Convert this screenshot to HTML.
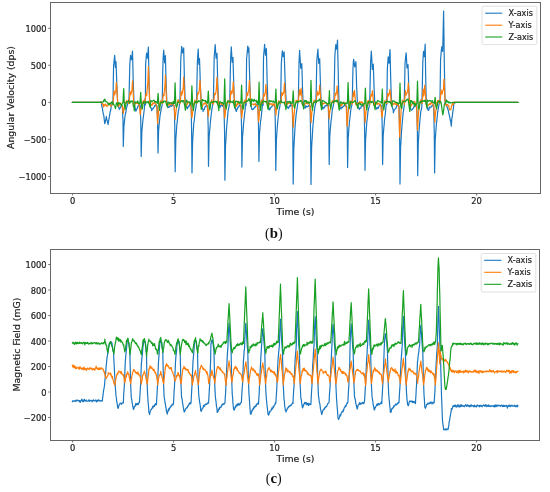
<!DOCTYPE html>
<html><head><meta charset="utf-8"><title>Angular velocity and magnetic field</title>
<style>
html,body{margin:0;padding:0;background:#fff;}
body{width:550px;height:492px;overflow:hidden;position:relative;}
svg{position:absolute;left:0;top:0;display:block;filter:blur(0.3px);}
.tk{font-family:"DejaVu Sans","Liberation Sans",sans-serif;font-size:8.3px;fill:#222;stroke:#222;stroke-width:0.2px;}
.lb{font-family:"DejaVu Sans","Liberation Sans",sans-serif;font-size:9.35px;fill:#222;stroke:#222;stroke-width:0.2px;}
.lg{font-family:"DejaVu Sans","Liberation Sans",sans-serif;font-size:8.1px;fill:#222;stroke:#222;stroke-width:0.2px;}
.cap{font-family:"Liberation Serif","DejaVu Serif",serif;font-size:14px;fill:#111;}
</style></head><body>
<svg width="550" height="492" viewBox="0 0 550 492">
<rect width="550" height="492" fill="#fff"/>

<g fill="none" stroke-width="1.2" stroke-linejoin="round" stroke-linecap="round">
<path d="M72.3 102.4l28.5,0 .2,-.8 .3,1.1 .5,3.4 .5,1.8 .5,3.3 .2,.9 .3,1.7 .5,1.8 .5,4.5 .5,3.5 .5,-1.6 .3,-1.9 .2,-.4 .5,-2.8 .1,-.4 .4,3.1 .5,1.4 .5,2.2 .3,1.5 .2,-2 .5,-2.7 .5,-2.8 .5,-3 .2,-1.9 .3,-.7 .5,-1.6 .5,-4.2 .5,-.9 .2,-1.4 .3,-1.4 .5,0 .2,-1.2 .3,-18.7 .3,-16.8 .2,-1.2 .5,-5.4 .4,-3.5 .1,1.4 .5,9.4 .1,1.4 .4,-4.8 .2,-1 .3,8.1 .5,14.4 0,-.1 .5,10.5 .4,8.7 .1,1.1 .5,2.4 .3,-.2 .2,.7 .5,2 .3,-1 .2,.4 .5,-1.1 .5,-.6 .5,-1.7 .5,.1 .5,.6 .1,.2 .4,11.1 .2,2.5 .3,26.6 .5,-16.3 .1,-3.7 .4,-3.5 .5,-4.9 .3,-1.9 .2,-1.5 .5,-2.1 .5,-3.4 .1,-1 .4,-.9 .5,-2.3 .2,.1 .3,-1.6 .5,-1.2 .5,-2.8 .2,.2 .3,-13.3 .5,-21.9 0,.4 .5,-6.5 .3,-3 .2,2.3 .5,.8 .3,1.4 .2,-1.8 .5,-4.6 .2,-2.3 .3,12.2 .4,17.5 .1,2.4 .5,13.7 .2,6.5 .3,1.4 .5,1.5 .1,1.3 .4,.7 .5,2.8 .1,-.1 .4,-.8 .5,-1.3 .5,-.6 .5,-2.1 .5,-.3 .5,-.1 .4,-2.2 .1,1.9 .5,-.8 .5,2.2 0,-1 .5,17.3 0,1.3 .4,32 .1,-2.5 .5,-20.8 0,-.9 .5,-5.5 .5,-5.3 .2,-2.6 .3,-1.1 .5,-4.8 .5,-3.5 0,-.4 .5,-7.7 .2,-2.8 .3,5.8 .1,.4 .2,-40 .2,-2.3 .5,-6.1 .3,-3.2 .2,1 .5,3.1 .2,.9 .3,-3.6 .5,-6.7 .1,-.9 .4,22.2 .2,9.2 .3,10.2 .4,15 .1,1.1 .5,.5 .3,2.1 .2,.3 .5,.8 .3,2.3 .2,-.7 .5,-.5 .5,-1.1 .5,.1 .5,-1.2 .5,-.4 .5,-1.2 .5,-.7 .5,.9 .2,-1.3 .3,.9 .5,.5 .3,.1 .2,5.9 .3,11 .2,12.5 .2,17.4 .3,-11.4 .3,-10.8 .2,-2.3 .5,-5.1 .5,-5.6 .5,-3.9 .5,-2.2 .3,-2 .2,-1.5 .5,-1.5 .4,-1.5 0,-5.2 .1,-2.7 .5,-28 .2,-7 .3,-7.1 .4,-4.9 .1,1.2 .5,7.3 .3,4.1 .2,-1.7 .5,-4.5 .1,-.9 .4,16.1 .3,10.3 .2,5.5 .5,13.7 .1,1.1 .4,1.5 .5,3.7 0,-.2 .5,-.1 .5,.2 0,-.5 .5,-.7 .5,.5 .5,-.8 .5,-.7 .5,1 .5,-.6 .5,0 .5,-1.2 .4,0 .1,-.1 .5,.8 .5,1.3 0,-.6 .5,21.8 0,2.1 .4,41.9 .1,-7.2 .5,-24.5 0,-.5 .5,-6.7 .5,-7.5 .2,-2.1 .3,-2.1 .5,-5.2 .5,-4.6 0,-.2 .5,-1.8 .5,-3.3 .1,-1.9 .4,-2.8 .2,-3.1 .3,-15.1 .5,-24.2 0,.4 .5,-7.1 .4,-5.9 .1,.7 .5,4.2 .4,1.8 .1,-.6 .5,-2.5 .4,-2 .1,4.8 .5,21.6 .1,4.8 .4,11.2 .4,13.4 .1,-.3 .5,3.3 .3,-.1 .2,.8 .5,.3 .3,-.6 .2,1.6 .5,-.6 .5,-1.7 .5,.2 .5,-.7 .5,-2.4 .2,1.6 .3,.2 .5,.7 .3,-.2 .2,9.2 .3,15.5 .2,18.9 .2,23.6 .3,-16.2 .3,-15.1 .2,-4 .5,-6.8 .5,-7.8 .5,-2.8 .5,-5.2 .3,-3 .2,-1.2 .5,-3.1 .4,-2.1 .1,-1.7 .3,-4.7 .2,-8.1 .5,-26.5 .1,-3.3 .4,-6.5 .4,-5.8 .1,2.1 .5,12.5 0,.5 .5,-3.7 .2,-1.8 .3,8.6 .5,15.6 0,1.3 .5,10 .4,9.1 .1,.4 .5,2.4 .3,.3 .2,1.5 .5,1.3 .3,2.1 .2,-1.3 .5,-.1 .5,-.3 .5,-2 .5,-1 .5,-.4 .5,-1 .2,-.9 .3,1.3 .5,1.6 .3,-1 .2,8 .4,13.4 .1,17.4 .2,21.3 .3,-14.7 .3,-13.2 .2,-3.9 .5,-5.1 .5,-6.1 .5,-5.2 .5,-4.3 .3,-1.8 .2,-2.3 .5,-2.8 .4,-2.4 .1,0 .5,-3 .1,-1.5 .4,-22.2 .4,-21 .1,-1.6 .5,-5.6 .4,-5.1 .1,1.8 .5,7.7 .3,4.2 .2,-.9 .5,-2.7 .2,-1.3 .3,12.1 .4,17.1 .1,1.6 .5,13.7 .2,4.6 .3,2.6 .5,.8 .1,.8 .4,.9 .5,-.6 .1,-.6 .4,-1.1 .5,.5 .5,-.5 .5,.4 .5,.7 .1,-1.3 .4,0 .5,.4 .2,1 .3,14.8 .3,11.9 .2,34.4 .1,12.7 .4,-22.4 .2,-12 .3,-4.6 .5,-8.6 .4,-5.6 .1,-1.4 .5,-5.6 .5,-5.4 .2,-2.8 .3,-1.9 .5,-1.7 .3,-2.4 .2,-1.5 .5,-3.9 0,-2 .5,-25.3 .3,-13.8 .2,-3.9 .5,-8.6 .5,9.6 .4,5.7 .1,-1.7 .5,-2.8 .2,-.1 .3,11.5 .4,12.7 .1,5.9 .5,13.4 .1,3.2 .4,.7 .5,2.3 0,-.5 .5,3.8 .5,-.1 0,1.1 .5,-2.2 .5,-.3 .5,-1.8 1,0 .5,-2.1 .5,.6 .1,-.6 .4,-.3 .5,1 .2,.3 .3,12.2 .3,9.7 .2,27.7 .1,11.4 .4,-20.1 .2,-10 .3,-3.1 .5,-5.8 .4,-6.5 .1,0 .5,-4.9 .5,-4.7 .2,-.7 .3,-4.4 .5,-4.8 .2,-3.2 .1,6.7 .2,-17.6 .3,-30.3 .2,-.8 .5,-5.9 .5,-4.9 .5,6.1 .1,0 .4,-3.5 .1,-.8 .4,16.7 .4,13.8 .1,4.4 .5,13.7 .2,7.3 .3,.3 .5,1.8 .1,1.5 .4,1.9 .5,-.1 .1,.5 .4,-.2 .5,-.9 .5,.3 .5,-1.3 .5,-.6 .5,.2 .5,-1.4 .5,.1 .5,-1.5 .1,-.2 .4,.1 .5,2.9 .2,-1 .3,11 .2,8.8 .3,25.4 .1,10 .4,-16.8 .2,-10.7 .3,-3.7 .5,-5.5 .4,-4.8 .1,.4 .5,-4 .5,-5.2 .2,-1.9 .3,-3.6 .5,-5.4 0,-1.7 .3,6.9 .2,-28 .2,-19 .3,-5.1 .5,-5 .3,-4 .2,2.4 .5,6.7 .2,1.8 .3,-2.4 .5,-3.1 .1,-1.1 .4,17.7 .3,13.4 .2,5.6 .5,15 .1,2.4 .4,2.4 .5,2.3 .5,1.4 .5,1.1 .5,-1.7 .5,-.9 .5,0 .5,-.8 .5,-.6 .5,-.1 .5,-1 .5,.5 .5,.2 .5,.9 .1,-.1 .4,16.6 .1,6.2 .4,41.3 .5,-26.1 .1,-4.6 .4,-5.5 .5,-7.5 .3,-3.1 .2,-2.8 .5,-4.3 .5,-4.5 .1,-2 .4,-.8 .5,-2.6 .2,-1.2 .3,-3 .3,-3.2 .2,-8.2 .5,-25.8 .1,-2.8 .4,-4.9 .5,-6.6 .5,3.6 .4,2.2 .1,-.7 .5,-3 .3,-1.1 .2,4.2 .5,15.2 .3,9.4 .2,3.4 .5,10.9 .4,8 .1,.7 .5,2.7 .3,1.3 .2,-.1 .5,-.7 .3,1.3 .2,.2 .5,-.6 .5,-.9 .5,-1.6 .5,1 .5,-1.1 .4,-1.8 .1,1.9 .5,-.5 .5,.8 .5,26.6 0,3.7 .4,48.2 .1,-5.8 .5,-30.2 .5,-8.1 .5,-9.1 .2,-3.3 .3,-4 .5,-5.3 .5,-5 .5,-3.2 .5,-3.3 .1,-.1 .4,-3.9 .5,-3.1 0,.1 .5,-24.1 .2,-13.1 .3,-5.5 .3,-6.7 .2,3.7 .5,7.2 .4,6.1 .1,.9 .5,-2.7 .5,-2 .5,17.2 .1,4.6 .4,10 .3,7.5 .2,0 .5,3.4 .2,1.6 .3,-.2 .5,-.3 .2,.4 .3,.2 .5,-2.4 .5,1.2 .5,0 .5,-.3 .5,.3 .5,-.7 .5,-.9 .2,-.1 .3,.7 .5,-.1 .3,.7 .2,11 .3,19 .2,19.9 .2,28.2 .3,-18.6 .3,-17.9 .2,-4.1 .5,-7.1 .5,-9.5 .5,-5.2 .5,-5.7 .3,-2.9 .2,-1.1 .5,-4.7 .4,-2.2 .1,0 .5,-4.5 .2,-2.5 .3,-12.2 .5,-25.1 0,-.5 .5,-5.7 .5,-4.2 .1,-1.7 .4,7.3 .5,7 .5,-2.2 .4,-2.7 .1,4.3 .5,17.1 .1,3.2 .4,10.3 .4,9.8 .1,1.2 .5,1.3 .3,1.4 .2,1.1 .5,.7 .3,0 .2,-1.3 .5,-.3 .5,.5 .5,-1.4 .5,-.8 .5,.3 .5,-.1 .5,-1.1 .4,-.8 .1,.3 .5,1.9 .5,-.2 .5,19.2 0,2.1 .4,37.2 .1,-5.3 .5,-22.8 .5,-6.9 .5,-5.7 .2,-2.8 .3,-1.3 .5,-4.9 .5,-4.7 .5,-2.2 .5,-2.3 .1,.1 .4,-4.9 .2,-1.9 .3,-14.7 .5,-25.5 0,-1.6 .5,-6.7 .5,-5.6 .5,3.8 .3,.7 .2,-1.8 .5,-4.7 .2,-2.7 .3,14 .5,21.1 0,2.5 .5,16.7 .3,9.4 .2,1 .5,.6 .2,2.5 .3,-.1 .5,.9 .2,.4 .3,-.8 .5,-1.2 .5,.8 .5,-1.1 .5,-.1 .5,-.6 .5,-.3 .5,-1.5 .5,1.7 .3,-.8 .2,.7 .5,1.2 .4,-.6 .1,2.9 .4,18.7 .1,5.4 .3,34 .2,-9.6 .4,-21 .1,.1 .5,-7.5 .5,-5.3 .1,-1.5 .4,-3.8 .5,-4.3 .4,-3.9 .1,-.6 .5,-3.1 .5,-1.6 .4,-4.8 .1,-2.1 .5,-22.8 .2,-7 .3,-6 .3,-3.2 .2,.6 .5,3.8 .5,3.2 .5,-2.5 .5,-1.9 .1,-1.1 .4,13.3 .3,11.7 .2,2.9 .5,11.5 .1,2.8 .4,1.9 .5,1.1 .5,1.3 .5,1.5 .5,-1 .5,-.6 .5,.3 .5,-1.9 .5,0 .5,-1 .5,.7 .2,-2.3 .3,1.2 .5,.8 .3,1.1 .2,8.3 .3,15.1 .2,15.5 .2,24.6 .3,-16 .3,-15.6 .2,-1.9 .5,-7.5 .5,-7.3 .5,-3.6 .5,-5.3 .3,-2.3 .2,-.5 .5,-2.6 .4,-1.3 .1,-2 .5,-5.5 .5,-23.6 .3,-13.3 .2,-2.7 .5,-8.1 .5,7.9 .5,10.3 .5,-3 .5,-2.2 .5,15.2 .2,6.9 .3,6 .5,11.8 .5,1.8 .4,1.7 .1,.2 .5,-.2 .4,1.5 .1,-.2 .5,-.3 .5,-1.5 .5,1.3 .5,-1.5 .5,-1.3 .5,-.8 .5,.3 .3,-.3 .2,-.1 .5,1.2 .4,.1 .1,4.5 .4,16.1 .1,5.7 .3,32.3 .2,-8.4 .4,-20.8 .1,-.9 .5,-6.3 .5,-5 .1,-2.4 .4,-3 .5,-4 .4,-4 .1,-1.1 .5,-5.5 .3,-5.1 .2,6.2 .5,-33.4 .1,-3 .4,-5.4 .4,-5.6 .1,1.4 .5,3.5 .3,1.5 .2,-3.4 .5,-8.2 .2,-2.1 .3,12 .4,17.2 .1,2.8 .5,16.6 .2,5.3 .3,1.9 .5,1.3 .1,1.3 .4,.6 .5,2.3 .1,2 .4,-1.6 .5,-1.5 .5,-.4 .5,-.5 .5,-.2 .5,-1.7 .5,-1.5 .5,.2 .5,-.5 .2,-.2 .3,1.1 .5,.1 .3,.7 .2,9.2 .3,19.3 .2,21.6 .2,27.1 .3,-18.8 .3,-18.6 .2,-2.2 .5,-9.5 .5,-7.5 .5,-5.3 .5,-5.4 .3,-4.1 .2,-.8 .5,-3.5 .4,-2.3 .1,-4.6 0,-2.8 .5,-22.4 .2,-12.3 .3,-3.7 .5,-4.8 .3,-2.6 .2,2.3 .5,9.2 .2,3.5 .3,0 .5,-2 .2,-1.2 .3,8 .4,13.4 .1,1.6 .5,11.2 .2,5.4 .3,-.4 .5,3.7 .1,-.2 .4,2 .5,.8 .1,-.2 .4,0 .5,-.3 .5,-1.1 .5,-.4 .5,-1.2 .5,-1.6 .5,1.2 .5,-.8 .4,-.8 .1,.1 .5,1.2 .5,-.2 .5,22.6 .1,2.6 .3,44.4 .1,-7 .5,-26 .5,-8.2 .5,-7.4 .2,-1.4 .3,-3.9 .5,-5.7 .5,-4.5 .5,-2 .5,-2.7 .1,-1.5 .1,-5.8 .3,-12.9 .5,-24.3 0,-.2 .5,-7.6 .2,-3.3 .3,1.8 .5,3.2 .1,.3 .4,-6.9 .4,-5.7 .1,7.7 .4,25.8 .1,5 .5,21.6 .5,1.9 .4,2.8 .1,-1.7 .5,2.1 .4,.1 .1,1.2 .5,-.6 .5,-2.7 .5,.1 .5,.4 .5,-.4 .5,-.6 .5,-1 .5,-.2 .3,-.2 .2,-.2 .5,1.4 .4,-1.5 .1,6.2 .4,18.8 .1,7.3 .3,35.6 .2,-11.1 .4,-20.7 .1,-2.2 .5,-6.9 .5,-7.3 .1,-.4 .4,-3.6 .5,-4.6 .4,-4.6 .1,.2 .5,-3.4 .5,-2.8 .5,-2.3 .5,-2.4 .2,-1.6 .3,-20.4 .3,-20.4 .2,-1.5 .5,-6 .5,-4.2 .5,1.9 .4,2.8 .1,-5.3 .5,-21.6 .3,-13.4 .2,14.1 .5,38 0,.1 .5,25.7 .3,15 .2,-.8 .5,.6 .4,.9 .1,.1 .5,1.5 .5,1.4 .3,0 .2,1.7 .5,.7 .5,3.4 .2,.1 .3,1.4 .5,2.6 .5,2.7 .1,-.6 .4,2.6 .5,3.8 .5,-6.8 .2,-1.9 .3,-.5 .5,-5.1 .5,-2.8 .5,-4.9 .2,-.5 .3,-.5 .5,-.1 .5,-.2 .5,-.3 .2,-.1 62,0" stroke="#1b78c0"/>
<path d="M72.3 102.4l28.5,0 .5,-.5 .2,.1 .3,1.3 .5,.5 .5,.1 .5,2.3 .4,.8 .1,-2.4 .5,.4 .5,.7 .5,-1.7 .5,.6 .5,.7 .5,.7 .2,.6 .3,-.7 .5,0 .5,-1.5 .5,-.8 .2,-.8 .3,1 .5,0 .5,1 .5,1.3 .5,.1 .5,-.7 .5,-.8 .5,-1 .2,-.4 .3,-3.6 .5,-5.3 .2,-3.5 .3,2.9 .4,1.2 .1,-.8 .5,-1.7 .5,-1.9 0,.5 .5,-8.3 .1,-.4 .4,5.9 .3,4.5 .2,4.1 .5,7.3 0,1.2 .5,.9 .5,.1 0,-1.2 .5,-.8 .5,.4 .5,-2 .5,.5 .5,1.3 .5,1.6 .5,0 .5,3.2 .5,4.1 .5,-3.2 .3,-2.8 .2,-1 .5,-1 .3,-1.7 .2,-.1 .5,-1.6 .5,-.3 .5,-1.4 .5,1 .5,.5 .5,.9 .5,.9 .3,-.6 .2,-2.5 .5,-6.1 .3,-3 .2,1.7 .5,1.8 .5,-2.5 .5,-1.6 .1,-.1 .4,-6.1 .2,-3.9 .3,5.7 .4,6.3 .1,2.1 .5,9.8 .1,-.6 .4,.4 .5,-.5 .1,-.5 .4,-.4 .5,.4 .5,-.1 .5,-.2 .5,-1.2 .5,1.6 .5,.1 .5,.8 .5,1 .5,4.7 .5,4.5 .5,-4.5 .3,-1.3 .2,-.7 .5,-1.9 .3,-1.1 .2,-1.6 .5,-1.6 .5,-1.1 .5,-.4 .5,1.8 .5,.4 .2,.5 .3,-3.8 .5,-4.4 .2,-1.4 .3,1.1 .4,.9 .1,-1.8 .5,-5.6 .5,-6 .5,-12.7 .1,-3 .4,12.7 .3,9.9 .2,3.9 .5,11.5 .5,.5 .5,-.3 .5,-.3 .5,1.1 .5,-1.1 .5,-1.5 .5,.9 .5,-.1 .5,-1.4 .4,-.5 .1,.3 .5,1.2 .5,1 .5,1.2 .4,.6 .1,1.8 .5,9.1 .4,6.7 .1,-2.6 .5,-5.7 .2,-2.4 .3,-2.9 .5,-3.5 .2,-2.4 .3,-1.4 .5,-.2 .4,-1.8 .1,-.1 .5,1.4 .5,1 .5,.5 0,-1.7 .5,-3.1 .5,-4.1 0,-.3 .5,.7 .2,.6 .3,-3.8 .5,-5.1 .5,-8.3 .1,-3.5 .4,8.9 .3,7.8 .2,4.1 .5,9.2 .5,1 .5,-.7 .5,-.6 .5,.3 .5,0 .5,-1.2 .5,.3 .5,-.6 .5,1.4 .5,-2.5 .3,1.1 .2,-.6 .5,.7 .5,1.1 .5,.8 .3,.7 .2,2.3 .5,6.5 .3,4.4 .2,-1.6 .5,-5.3 .1,-.6 .4,-3.3 .5,-2.9 .1,-.4 .4,-2.1 .5,-2.7 .3,-.8 .2,.1 .5,2.6 .5,-.7 .5,2 .3,.1 .2,-1.8 .5,-6.3 .3,-4.3 .2,1 .5,2.7 .5,-2.3 .5,-2.7 .3,-1.1 .2,-2.7 .4,-9.3 .1,3.2 .5,9.8 .1,2.8 .4,7.6 .3,5 .2,.5 .5,-1.2 .3,1.7 .2,-1.3 .5,.1 .5,-1 .5,-2.3 .5,.4 .5,-.1 .1,.7 .4,-.1 .5,.8 .5,-.1 .5,2.6 .1,.4 .4,4.3 .5,6.5 .1,.5 .4,-2.6 .4,-3 .1,-1.8 .5,-2.8 .4,-2.9 .1,-1.2 .5,-.3 .5,-3.2 .1,.3 .4,.9 .5,1.2 .5,.6 .4,.6 .1,-1.7 .5,-5.6 .4,-3.4 .1,-.2 .5,1.2 .1,.3 .4,-1.5 .5,-3.3 .1,-.2 .4,-6.9 .2,-2.3 .3,5.9 .4,8.7 .1,-.4 .5,9.1 .1,2.6 .4,-.6 .5,0 .1,1.3 .4,-1.6 .5,-.9 .5,-.6 .5,.5 .5,-.4 .5,-1.5 .5,.9 .5,1.5 .5,.6 .5,-.1 .5,6.1 .5,5.2 .5,-5.6 .3,-1.7 .2,-.5 .5,-3 .3,-2.4 .2,.5 .5,-1.1 .5,-1.2 .5,-1.5 .5,3.5 .5,-1.5 .5,1.9 .2,.4 .3,-2.9 .5,-5 .2,-2.7 .3,1.4 .4,-.3 .1,-1.7 .5,.3 .5,-4.2 .1,.1 .4,-9.5 .2,-2.5 .3,6.8 .4,9 .1,.9 .5,9 .1,2.5 .4,-1.5 .5,0 .1,1.1 .4,-1 .5,0 .5,-.4 .5,.8 .4,-.7 .1,-.7 .5,1.4 .5,-.5 .5,.9 .4,1.2 .1,.1 .5,7.3 .4,4.7 .1,-.2 .5,-4.2 .2,-3.5 .3,-1.2 .5,-3.8 .2,-1.4 .3,-1 .5,-.1 .4,-.8 .1,-1 .5,0 .5,1.5 .5,.1 .5,1.3 .1,-.1 .4,-5.1 .5,-6.2 .1,-1.9 .4,2.5 .3,1.1 .2,0 .5,-2.4 .4,-.7 .1,-2 .5,-7.1 .5,9 .2,2.5 .3,5.2 .4,6.3 .1,1.1 .5,1 .4,-.2 .1,-.9 .5,.5 .5,-2.4 .5,1.1 .5,-1.9 .5,-1.9 .4,2.7 .1,-.5 .5,-.8 .5,1.5 .5,.6 .4,.8 .1,.3 .5,6.7 .4,5.7 .1,-1.1 .5,-4.3 .2,-2.6 .3,-.4 .5,-4.7 .2,-.5 .3,-2.3 .5,-1.3 .4,.2 .1,-1.1 .5,2 .5,.8 .2,-.1 .3,-2.7 .5,-5.2 .2,-2 .3,1.5 .4,1 .1,-1.2 .5,-2.5 .5,-1.5 .5,-8.7 .1,-1 .4,8.7 .3,4.7 .2,2.9 .5,8.5 .5,-.8 .5,-.4 .5,-.1 .5,.3 .5,-.1 .5,.7 .5,-.8 .5,.1 .5,-.7 .3,1.7 .2,-.6 .5,1.1 .5,-.3 .5,.7 .3,-.8 .2,3.9 .5,9.7 .3,2.8 .2,-1.1 .5,-5.9 .1,-2 .4,-3 .5,-3.7 .1,-2 .4,-.7 .5,-2.4 .3,-.9 .2,.5 .5,1.6 .5,1.4 .5,-4.2 .5,-5.5 .5,2.3 .2,-.4 .3,-1.3 .5,-2.3 0,.2 .5,-6.5 .1,-1.4 .4,4.9 .3,6.2 .2,4.3 .5,4.5 0,1.7 .5,-1.3 .5,-1.3 0,.9 .5,-1.4 .5,.9 .5,.9 .5,-.9 .5,-.1 .5,.4 .5,-.2 .5,1.3 .5,-1.4 .1,1.1 .4,-1.1 .5,1.5 .5,-.3 .5,-1.2 .1,1.6 .4,2.9 .5,4.7 .1,2.1 .4,-4.5 .4,-3 .1,1.2 .5,-2.8 .4,-.6 .1,-1.1 .5,-2.4 .5,-1.2 .1,.5 .4,.4 .5,.3 .5,.9 .4,.5 .1,-1.3 .5,-3.9 .4,-5.5 .1,-.3 .5,2.1 .1,1 .4,-.8 .5,-1.4 .5,-1.4 .1,.3 .4,-6.7 .2,-2.6 .3,6.1 .4,5.7 .1,2 .5,8 .1,1.2 .4,-1.1 .5,.4 .1,-1.1 .4,-.7 .5,.6 .5,-.3 .5,-.9 .5,.4 .5,-.2 .4,-1.2 .1,1.2 .5,.6 .5,.5 .5,-.1 .4,1.3 .1,2.4 .5,11.4 .4,8.2 .1,-.5 .5,-9.1 .2,-2.6 .3,-2.3 .5,-6.6 .2,-2 .3,0 .5,-2.6 .4,-1.3 .1,.5 .5,1.2 .5,-1.4 .5,1.6 .5,.5 .1,.1 .4,-5.5 .5,-7 .1,-.7 .4,2.5 .3,3.1 .2,-.3 .2,-1.2 .3,-2.9 .3,-2.5 .2,1.8 .5,5.9 .5,6.9 .2,2 .3,.7 .5,.1 .2,-1.1 .3,.2 .5,.5 .5,-1.3 .5,.1 .5,-1.1 .5,-.2 .5,-.2 .5,1.3 .5,-1.9 .3,-.3 .2,.4 .5,1.1 .5,1.3 .5,.6 .3,1.6 .2,2.3 .5,9.3 .3,4.4 .2,-2.3 .5,-7.5 .1,-.5 .4,-3.1 .5,-4.1 .1,-2 .4,.5 .5,-2.4 .3,-1.1 .2,.4 .5,.8 .5,1.1 .5,-.2 .3,.6 .2,-1.7 .5,-6.1 .3,-4 .2,.9 .5,2.6 0,.5 .5,0 .5,-2.1 .3,1.1 .2,-3 .4,-5.9 .1,2.2 .5,6 .1,1.3 .4,5.8 .3,4.8 .2,-.2 .5,-.7 .3,.1 .2,-1.4 .5,1.4 .5,-1.3 .5,.4 .5,0 .5,-.6 .5,-.3 .5,.1 .4,.5 .1,.5 .5,.5 .5,-.4 .5,.7 .4,.3 .1,2.1 .5,4.8 .4,6.9 .1,-2 .5,-5 .2,-1.2 .3,-1.4 .5,-3.2 .2,-.8 .3,-1.5 .5,-1 .4,-1.4 .1,-.6 .5,1.7 .5,0 .5,.8 .3,-.2 .2,-1.5 .5,-4.1 .3,-4.1 .2,1.5 .5,.6 .5,-2.6 .2,.9 .3,-3.2 .3,-4.5 .2,3.3 .5,5.4 .5,8.6 .2,1.9 .3,1.2 .5,-1.3 .2,1.7 .3,-.8 .5,.2 .5,-1.4 .5,-.2 .5,1.3 .5,-2.3 .5,-.3 .5,-.1 .5,-.9 .4,1 .1,.5 .5,-.7 .5,.1 .5,2.5 .4,.6 .1,2 .5,11 .4,7.4 .1,-1.1 .5,-8.5 .2,-3.1 .3,-1.6 .5,-6.1 .2,-.3 .3,-2.4 .5,-2.1 .4,-.4 .1,.7 .5,-.1 .5,-.3 .5,1.7 .5,1.3 .5,-6.6 .5,-5.6 .5,4.1 .1,.1 .1,-1.9 .3,-2 .2,-1.9 .3,3.6 .4,3.9 .1,1.7 .5,5.1 .1,-.2 .4,.4 .5,-.7 .1,-.5 .4,.3 .5,-1.1 .5,-.3 .5,1 .5,-1.2 .5,-.8 .5,1.8 .5,-1.1 .5,.2 .5,-.8 .3,0 .2,.4 .5,1.2 .5,1.2 .5,-.9 .3,2.3 .2,2.2 .5,8.6 .3,6.1 .2,-2.9 .5,-7.2 .1,.8 .4,-4.8 .5,-3.4 .1,-.8 .4,-.6 .5,-2.8 .3,-.1 .2,-.7 .5,1.9 .5,-.3 .5,1.1 .1,1.5 .4,-4.4 .5,-4.4 .1,.4 .4,-1 .3,-.6 .2,1.5 0,-1.1 .5,-3.3 .1,-.9 .4,3.2 .3,3.2 .2,2.7 .5,5.6 0,-.6 .5,.1 .5,-2.4 0,1 .5,0 .5,.2 .5,.3 .5,-.9 .5,1.2 .5,-.5 .5,-.2 .5,-.4 .1,.1 .4,1.2 .5,-.4 .5,.9 .5,1 .1,0 .4,5.3 .5,5.2 .1,.7 .4,-2.6 .4,-4.3 .1,-.1 .5,-3.5 .4,-1.6 .1,-.5 .5,-1.8 .5,-1.8 .1,-.4 .4,.6 .5,.8 .5,1.3 .4,-.2 .1,.3 .5,-6.4 .4,-3.5 .1,-.3 .5,1.4 .1,1.6 .4,-1.5 .5,-.8 .1,.3 .4,-4.1 .2,-.6 .3,2.5 .4,5.3 .1,.1 .5,7 .1,1.4 .4,.2 .5,-2 .1,.6 .4,-.2 .5,-.8 .5,.5 .5,-.2 .5,-1.3 .5,1.7 .5,-.1 .5,-.7 .4,-.6 .1,1.8 .5,-.3 .5,.9 .5,.6 .4,-.8 .1,4 .5,15.2 .4,12.8 .1,-2.2 .5,-10.8 .2,-3.7 .3,-5.2 .5,-7.8 .2,-3.2 .3,-.6 .5,-2.4 .4,-1.1 .1,.4 .5,.6 .5,1.2 .5,.6 .1,1.7 .4,-5.5 .5,-6.8 .1,-1.6 .4,3.8 .3,.7 .2,-.7 .5,-1 .5,-1.3 .4,-.3 .1,-2.4 .5,-6.4 .5,7 .2,4.5 .3,3.8 .4,8.1 .1,-1.2 .5,.5 .4,.8 .1,.1 .5,-2 .5,-.1 .5,-1.2 .5,.3 .5,-.7 .5,-.7 .5,-.8 .2,-.1 .3,.4 .5,1.7 .5,1.5 .5,-1.1 .2,1.4 .3,7.4 .5,13.2 .2,4.2 .3,-4.8 .5,-9.4 .5,-5 .5,-6.4 .5,-1.9 .5,-1.3 .2,-1 .3,-.3 .5,2.3 .5,.7 .3,.3 .2,-2 .5,-6.7 .3,-5.5 .2,1.7 .5,5.1 .4,-3.3 .1,-1.5 .5,-6.1 .5,7.4 .2,2.2 .3,5.2 .4,4.8 .1,.1 .5,1.4 .4,-.9 .1,.3 .5,.1 .5,-.2 .5,-1 .5,0 .5,-.9 .5,1.2 .5,-.9 .5,-1.4 .5,.3 .5,1.1 .5,.6 .5,1.4 .5,.4 .5,7.4 .5,8.8 .5,-7 .3,-2.8 .2,-1.7 .5,-2.5 .3,-3.9 .2,-2 .5,-.8 .5,-1.2 .5,-.2 .5,.9 .5,1 .5,1.1 .2,0 .3,-4.5 .5,-5.7 .2,-3.5 .3,2.2 .4,2.4 .1,0 .5,-.7 .5,-3 .5,-.7 .1,.2 .4,-7.7 .2,-3.2 .3,5.2 .4,9.5 .1,1.7 .5,8.3 .1,.5 .4,-.2 .2,.9 .3,.8 .1,-.7 .4,.6 .5,-1.1 .5,.3 .2,.1 .3,1 .5,-.1 .5,2.7 .5,1.4 .5,-.3 .1,.1 .4,-.2 .5,-2.2 .5,-2.6 .5,.3 .2,-1 .3,-.6 .5,1.1 .5,-1.6 .5,-.9 .2,.4 .3,-.7 .5,.6 62.7,0" stroke="#ff7d0b"/>
<path d="M72.3 102.4l29.5,0 .2,-.2 .3,.1 .5,-.3 .5,-.1 .5,-1.9 .5,1 .5,-2 .5,1.4 .5,1.2 .5,.4 .5,-.3 .2,.4 .3,.4 .5,.7 .5,1.2 .5,-1 .4,1.4 .1,-.1 .5,-.6 .5,-.8 .5,0 .5,-1.2 .2,-.1 .3,.2 .5,1.4 .5,-1.6 .5,2.5 .2,-.7 .3,.8 .5,.9 .5,.7 .5,2.2 .1,.1 .4,-1.4 .5,-3.8 .4,-.3 .1,-.4 .2,.3 .3,1 .5,2.2 .5,-2.2 .4,-1.2 .1,.4 .5,.3 .5,-.4 .5,1 .5,0 .4,1 .1,.9 .5,-1.1 .5,-1 .5,-1.2 .2,0 .3,-6.8 .4,-7.3 .1,1.6 .5,12.9 .1,2 .4,2 .4,2.3 .1,-1.8 .5,-2.6 .5,-3 .5,.9 .5,-1.2 .5,-.1 .5,-.3 .5,-.1 .5,1.1 .5,1.1 .5,-2.2 .5,1.1 .5,-.5 .5,-.9 .5,.4 .3,0 .2,.8 .5,4.3 .5,.4 .5,4.1 .5,-6.2 .2,-2.9 .3,.4 .5,.4 .5,-.4 .5,.2 .5,.2 .5,-1.7 .4,2.1 .1,.6 .5,-.4 .5,.4 .5,-1.1 .2,.9 .3,-5 .4,-6 .1,2.8 .5,8 .1,2.2 .4,.9 .4,3 .1,-.5 .5,-3.6 .5,-3.1 0,1.5 .5,-1.9 .5,.1 .5,.1 .5,1.1 .5,.5 .5,-1.1 .5,-.7 .5,.2 .5,.8 .5,-1.2 .3,1.4 .2,.6 .5,.7 .5,2 .4,1.3 .1,-.7 .4,-6 .1,1.3 .5,-.9 .5,-.3 .5,.5 .5,-.2 .5,-.5 .5,-.4 .5,.3 .5,1.4 .5,.3 .3,-.8 .2,.6 .5,-.4 .5,1 .5,.8 .1,-.6 .4,-5.8 .3,-3.7 .2,3.2 .5,8.3 0,.8 .5,2.5 .3,2.4 .2,-1.9 .5,-3.6 .4,-2.5 .1,-.2 .5,-.4 .5,.1 .5,.6 .5,-.2 .5,.3 .5,-1.9 .5,.7 .5,-.1 .5,.3 .4,-.5 .1,.3 .5,2.5 .5,1.4 .4,.5 .1,.9 .5,-3.2 .1,-1.6 .4,1 .5,-.8 .5,1.2 .5,-.6 .5,-.2 .5,.4 .5,-.1 .5,.7 .5,.1 .3,0 .2,-.4 .5,-1.9 .5,2.1 .5,-1.2 .1,1.2 .4,-11.3 .3,-9.4 .2,6.1 .5,16.4 .5,1.3 .3,.8 .2,-1.2 .5,-1.1 .4,-2.7 .1,.5 .5,-.8 .5,0 .5,-.3 .5,.2 .5,.1 .5,-.5 .5,-.7 .5,-.3 .5,1.3 .5,-1.3 .5,-.1 .4,.9 .1,.3 .5,2.2 .5,2.1 .5,4.2 .2,-.1 .3,-3.8 .4,-5.7 .1,-.6 .5,.3 .5,1.4 .5,.4 .5,-.1 .5,-.2 .5,.2 .1,.7 .4,-.6 .5,1.6 .5,.3 .4,1.1 .1,-3.6 .5,-13.1 .1,-2.6 .4,9.3 .3,9.9 .2,1.5 .5,3.8 .1,.4 .4,-2.9 .5,-3.8 .2,-1.2 .3,.4 .5,-1.6 .5,.2 .5,-.7 .5,1.7 .5,-.3 .5,-.5 .5,-1.3 .5,.7 .5,-.4 .5,.1 .4,-.3 .1,1.2 .5,3.1 .5,4.3 .5,-5.5 .4,-4.4 .1,.1 .5,.1 .5,1 .5,-.4 .5,.5 .5,-.1 .5,-.4 .5,1.6 .5,-.6 .5,1.6 .5,.4 .3,-.9 .2,-3 .5,-8.3 .5,9.8 .2,3.8 .3,2.9 .5,2.2 .5,-3 .5,-4 .1,-.2 .4,-.7 .5,.3 .5,.3 .5,-.4 .5,-.4 .5,-.4 .5,.6 .5,.1 .5,-.5 .5,-.4 .5,.7 .5,1.1 .4,-1.7 .1,.9 .5,2.9 .5,1.2 .5,4.4 .5,-6.8 .2,-1.3 .3,-.8 .5,0 .5,.6 .5,.5 .5,-.2 .4,.6 .1,-.8 .5,.7 .5,.7 .5,.8 .2,-.8 .3,-11.1 .4,-13.9 .1,3.8 .5,19.9 .1,3.5 .4,1.1 .4,2 .1,-.6 .5,-2.9 .5,-3.1 0,-.6 .5,-.9 .5,.8 .5,-.9 .5,1.2 .5,-.1 .5,-1.1 .5,1.3 .5,0 .5,-.5 .5,.8 .5,.1 .5,-2 .5,3.6 .5,1.9 .5,2.2 .5,-5.2 .1,-2.1 .4,.2 .5,0 .5,.3 .5,.5 .5,-.6 .5,.5 .5,1.1 .3,-.3 .2,.4 .5,-1.2 .5,.8 .5,.3 .1,.4 .4,-11.2 .3,-7.1 .2,5.3 .5,15 .5,2.9 .3,.8 .2,-.3 .5,-3.6 .4,-2.7 .1,-.1 1,0 .5,-.3 .5,-.7 .5,.1 .5,-.8 .5,.4 .5,-1 .5,-1.5 .5,1.7 .5,-1 .5,3.3 .4,3.8 .1,-1.3 .5,-2.4 .2,-2.6 .3,-1.2 .5,1.5 .5,-.4 .5,1.6 .5,-1.6 .5,-.6 .5,1.6 .5,-.1 .5,.2 .5,-.9 .3,1.7 .2,.9 .5,-1.6 .5,2.3 .5,-.5 .1,1.8 .4,-13.2 .3,-9.4 .2,7.4 .5,16.1 .5,2.2 .3,2.5 .2,-2.1 .5,-4.2 .4,-.5 .1,-1.4 .5,-.3 .5,.4 .5,-1.2 .5,0 .5,.4 .5,-.1 .5,.2 .5,.5 .5,-1 .3,.5 .2,1.1 .5,1.8 .5,3.6 .4,1.5 .1,-.1 .5,-6.8 .1,-1.5 .4,-.8 .5,.9 .5,-.5 .5,.9 .5,-.5 .5,-.4 .5,1 .5,-.1 .5,-.7 .1,1 .4,-.4 .5,.6 .5,.8 .4,-.1 .1,-2 .5,-10.7 .1,-1.2 .4,9.9 .3,6.3 .2,2 .5,1.1 .1,.7 .4,-2 .5,-3.3 .2,.1 .3,-1.3 .5,-.9 .5,1.5 .5,-1.1 .5,0 .5,-1.7 .5,2.4 .5,-.2 .5,0 .5,0 .5,.4 .5,-1.1 .5,2.8 .5,1.2 .5,2.5 .1,1.3 .4,-2.6 .5,-3.7 .4,-1.2 .1,-.3 .5,-.3 .5,.8 .5,-.4 .5,-.6 .5,.3 .5,1.8 .4,-1.9 .1,1.1 .5,.5 .5,.3 .5,-.8 .2,.6 .3,-5.3 .4,-7.1 .1,1.3 .5,10.4 .1,3.5 .4,1.3 .4,.8 .1,-1.1 .5,-1.9 .5,-2.6 .5,.3 .5,-1.4 .5,.7 .5,-.3 .5,-.7 .5,.7 .5,-.3 .5,-.4 .5,.4 .5,-1.2 .5,.7 .3,.2 .2,.7 .5,2.4 .5,.6 .5,1.8 .3,2.3 .2,-3.1 .3,-3.8 .2,-.9 .5,-.8 .5,1.2 .5,-.9 .5,-.2 .5,2.6 .5,-1.3 .5,.4 .5,0 .2,.8 .3,-.7 .5,1 .5,-.9 .5,.2 .5,-15.5 .2,-6.8 .3,10.5 .4,14.7 .1,.5 .5,2.1 .2,2.3 .3,-2.4 .5,-3.4 .3,-2 .2,.3 .5,-.5 .5,-.1 .5,-1.3 .5,.8 .5,.7 .5,-1.8 .5,0 .5,.4 .5,-.2 .5,-.4 .5,-1.5 .5,1 .1,-1 .4,2.6 .5,3.8 .5,2.5 .2,1.9 .3,-2.4 .4,-6.5 .1,0 .5,-.6 .5,.6 .5,.1 .5,.7 .5,0 .5,.6 .5,.7 .5,-.1 .5,.1 .1,.1 .4,1 .5,-.4 .5,.4 .4,-.1 .1,-2.5 .5,-8 .1,-3 .4,10.3 .3,5.3 .2,0 .5,1.3 .1,1.4 .4,-3.6 .5,-2.2 .2,-.2 .3,-.5 .5,-.5 .5,.7 .5,-1.4 .5,.6 .5,-.6 .5,-.4 .5,.6 .5,-1 .5,1.5 .5,-1.7 .5,1.4 .5,1.7 .5,4.6 .5,2.5 .5,-5.5 .3,-2.4 .2,.3 .5,-1 .5,1.6 .5,-1 .5,.7 .5,.3 .5,.2 .5,-1.2 .5,2.1 .5,-.4 .5,-.5 .3,-.3 .2,-.4 .5,.1 .5,1 .5,-.7 .1,-.5 .4,-12 .3,-8.1 .2,5.7 .5,16.7 .5,3.1 .3,.6 .2,-1.3 .5,-3.2 .4,-2.7 .1,.2 .5,.3 .5,.1 .5,.3 .5,.1 .5,-.3 .5,-.1 .5,-.8 .5,-.7 .5,.9 .3,-.3 .2,.8 .5,1.8 .5,1 .5,1.6 .4,1.9 .1,-.6 .5,-4 .1,0 .4,-.4 .5,-.3 .5,.7 .5,1.3 .5,-1.4 .5,1.2 .5,.2 .5,.2 .5,-1.2 .1,1.7 .4,-1.4 .5,-.5 .5,-.3 .4,.3 .1,-2.7 .5,-11.7 .1,-1.4 .4,9.2 .3,7.6 .2,2.1 .5,2.4 .1,.7 .4,-3.8 .5,-1.9 .2,-1.6 .3,.7 .5,-1.9 .5,.9 .5,-.4 .5,-.8 .5,.4 .5,1.1 .5,-1.1 .5,-.2 .5,.9 .5,0 .5,2.1 .5,1 .5,2.5 .3,1.8 .2,-2.9 .5,-4.9 .5,.8 .5,.3 .5,-1.7 .5,-1 .5,.6 .5,.1 .5,.4 .5,.4 .5,.1 .5,.2 .5,1.1 .3,-.4 .2,-3.4 .5,-10.4 .5,13.4 .2,3.5 .3,.9 .5,3 .5,-3.3 .5,-4.4 .1,-.1 .4,-.1 .5,.9 .5,-.9 .5,-.3 .5,-.4 .5,.1 .5,.5 .5,-.1 .5,.7 .5,-1.1 .4,.9 .1,-.1 .5,1.6 .5,.5 .5,2.1 .5,-3.6 .2,-1.5 .3,-.5 .5,.6 .5,-.4 .5,.3 .5,.1 .5,1.2 .5,-.1 .5,0 .5,.2 .5,.8 .2,0 .3,-.7 .5,1.6 .5,-.8 .5,-.1 .5,-14.1 .2,-6.3 .3,9.2 .4,13.5 .1,-.4 .5,2.9 .2,.1 .3,.1 .5,-5.2 .3,-.4 .2,-1 .5,-.4 .5,.1 .5,0 .5,-.1 .5,.4 .5,-1.2 .5,0 .5,-1.2 .5,.5 .5,-.6 .3,-.6 .2,1.7 .5,3.6 .5,3.7 .5,3.7 .5,-7.9 .2,-3.2 .3,1.2 .5,-1 .5,1.1 .5,1.8 .5,-2.1 .5,1.6 .5,1.3 .5,-.9 .5,3 .2,-3 .3,2.2 .5,-.3 .5,-.8 .5,-1.1 .5,-15.3 .2,-7 .3,11.2 .4,12.5 .1,1.1 .5,3.4 .2,-.2 .3,-1.5 .5,-3 .3,-2.9 .2,1.4 .5,-.7 .5,-1.3 .5,.7 .5,-.6 .5,-.1 .5,.2 .5,-.6 .5,.8 .5,-1.2 .5,.8 .2,-.7 .3,2.1 .5,1.8 .5,2.7 .2,.6 .3,-7.4 .5,.4 .5,.8 .5,-.3 .5,-.5 .5,-.1 .5,.4 .5,-.1 .5,1.1 .5,-.2 .5,-.9 .3,.1 .2,1.5 .5,0 .5,.2 .5,1.5 .1,-.8 .4,-3.3 .3,-2.6 .2,1.4 .5,7.2 .5,1.2 .3,1.8 .2,-1.3 .5,-2.3 .4,-2.9 .1,0 .5,-1.2 .5,.8 .5,-1 .5,.9 .5,-.1 .5,-.3 .2,1.1 .3,1.4 .5,3.8 .5,3.6 .5,3.6 .5,-2.6 .5,-3.2 .5,-4.7 .2,.1 .3,-.8 .5,-.6 .5,-1.2 .5,-1.9 .2,-.3 .3,2.1 .5,-.3 .5,-.4 .5,1.6 .5,.2 .2,-.7 .3,-.4 .5,.3 .5,.9 .5,-.3 .5,-.3 .5,.1 .2,.2 .3,-.4 65.7,0" stroke="#18a022"/>
<path d="M72.3 401.8l.3,-.8 .4,-.3 .3,.3 .4,0 .3,.3 .4,-.4 .3,-.1 .4,0 .3,.6 .4,-.3 .3,-1 .4,.2 .3,.6 .4,-.6 .3,.2 .4,-.3 .3,.3 .4,.4 .3,.3 .4,-.5 .3,1.1 .4,-1.2 .3,1.8 .4,-1.2 .3,-.3 .4,-.5 .3,-1.3 .4,1.5 .3,.2 .4,.9 .3,-1.8 .4,1.8 .3,-1.2 .4,.6 .3,-1.8 .4,1.4 .3,-.2 .4,.5 .3,-.3 .4,-.7 .3,1.2 .4,-.2 .3,0 .4,.2 .3,.1 .4,-.7 .3,-.7 .4,0 .3,1.5 .4,-.4 .3,-.3 .4,-.3 .3,.3 .4,0 .3,-.2 .4,-.2 .3,1.5 .4,-1 .3,-.5 .4,-.4 .3,.3 .4,.8 .3,0 .4,-.5 .3,.2 .4,-.2 .3,-.5 .4,1.3 .3,-.5 .4,1.2 .3,-1.8 .4,.3 .3,.6 .4,-.6 .3,-.7 .4,.3 .3,.6 .4,.1 .3,-.2 .4,.6 .3,0 .4,-.4 .3,-.2 .4,-.1 .3,.4 .3,.2 .1,-1.2 .3,-2.2 .4,-3 .3,-3 .4,-2.3 .3,-1.5 .4,-2.7 0,.7 .3,-4.6 .4,-3.4 .3,-3.5 .4,-4 .3,-4.6 .4,-3.6 .3,-3.6 .1,-1.1 .3,-1.1 .3,-1.8 .4,-3 .3,-.8 .4,-3.4 .3,-2.1 .2,-.9 .2,-.6 .3,.1 .4,-.8 .3,.4 .4,-1.2 .3,0 .4,-.2 .3,1.2 .2,-.3 .2,2.2 .3,1.4 .4,2.9 .3,1.5 .3,1.5 .1,1.5 .3,6.5 .4,6.8 .3,6.7 .4,5.6 0,.7 .3,6.7 .4,4.2 .3,4.7 .4,1.9 .3,3.6 .4,1.6 .3,2.4 .2,1.8 .2,.9 .3,-1 .1,1.2 .3,-1.3 .3,-1.4 .2,-.4 .2,-.6 .3,.3 .4,-1.2 .3,-.6 0,.5 .4,-.1 .3,-.1 .4,.1 .3,.9 .2,-.7 .2,-.4 .3,-.5 .4,.2 .3,-.5 .3,.6 .1,-1.7 .3,-7.3 .4,-4.9 .3,-4.8 0,-1.5 .4,-9.2 .3,-7.3 .2,-4.8 .2,-2.5 .3,-3.9 .4,-3.4 .3,-3.4 .3,-2.8 .1,-1.2 .3,-3.2 .1,-.1 .3,-.8 .3,-.4 0,-.7 .4,1.9 .3,1.1 .3,.2 .1,1.3 .3,2.6 .4,3 .2,2.4 .1,7.4 .4,14.9 .2,7.7 .1,4.5 .4,7.3 .1,3.3 .2,1.1 .4,1.9 .3,3 .4,1.4 .3,2.3 .2,.7 .2,1.4 .3,.7 .1,.2 .3,-1.3 .3,-.2 .2,-1.5 .2,-.5 .3,.5 .4,-.5 .3,-1.1 0,-1.2 .4,.5 .3,.5 .4,-.5 .2,.8 .1,-1.7 .4,1.1 .3,-.8 .4,1 .1,-.8 .2,.4 .4,-1.2 .3,-.8 .4,-.1 0,.3 .3,-6.2 .4,-4.7 .3,-5.9 .1,-1.4 .3,-8.1 .3,-8.1 .3,-6.4 .1,.3 .3,-4 .4,-3.2 .3,-3.8 .4,-4.2 .3,-2.1 0,-.6 .4,-1.6 .1,-.8 .2,-.7 .4,-.1 0,1.1 .3,-.9 .4,.5 .3,.9 0,.2 .4,3.5 .3,3.8 .3,3.1 .1,2.3 .3,16 .3,10.7 .1,2.3 .3,8.1 .2,3.4 .2,3.3 .3,3.7 .4,4.6 .3,4.6 .1,.7 .3,.6 .3,1.3 0,-.7 .4,-1.1 .3,-1.4 .1,-.7 .3,-.4 .3,-.7 .4,.1 .2,-.8 .1,-.5 .4,.1 .3,-.4 .4,-1.9 0,1.8 .3,-1.2 .4,-.5 .3,.3 .2,-.8 .2,-.5 .3,1.2 .4,-2.2 .3,.2 .1,.5 .3,-1.4 .3,.2 .4,-.1 .2,1 .1,-4.5 .4,-5.7 .3,-5.7 .3,-4.8 .1,-3.1 .3,-7.7 .4,-8.7 .1,-2.3 .2,-3.1 .4,-5 .3,-5.3 .3,-3.6 .1,-1.5 .3,-1.9 .1,-.2 .3,-1.1 .3,-.4 0,-.4 .4,2.1 .3,1.3 .3,-.8 .1,1.4 .3,2.9 .4,4.2 .2,1.4 .1,6.3 .4,14.8 .2,8.8 .1,2.8 .4,9.1 .1,1.6 .2,2.3 .4,1.9 .3,2.7 .4,1.6 .3,2.7 .4,1.2 .3,3 .3,1.1 .1,.5 .3,.8 .2,.8 .2,-2.3 .3,.1 .3,-1.9 .1,1.3 .3,-2.3 .4,-.1 .3,-.9 .1,1.7 .3,-2 .3,.3 .4,-.9 .3,-1.1 .1,.7 .3,0 .3,-1 .4,0 .3,-1.3 .1,.1 .3,-.5 .3,.1 .4,.6 .3,-1.2 .1,-.1 .3,-5.7 .3,-6.3 .4,-4.9 .1,-3.2 .2,-6 .4,-8.1 .3,-7.5 0,.7 .4,-6.1 .3,-2.2 .4,-3.5 .3,-4.7 .2,-1.4 .2,-.8 .3,-1.4 0,-1.4 .4,-.7 .2,1.2 .1,.6 .4,-.5 .3,-.5 .2,2.2 .2,1 .3,4 .4,2.7 .1,.8 .2,10.7 .4,16 .1,4.3 .2,3.9 .4,8.8 0,1.5 .3,1 .4,1.6 .3,2.9 .4,2.1 .3,2.1 .4,2 .3,1.9 0,.1 .4,1.3 .2,-.1 .1,-.3 .4,-1.1 .3,-.3 0,-.6 .4,-.8 .3,-.3 .4,-.6 .1,.2 .2,-.6 .4,.3 .3,-.6 .4,-1.2 .2,-.4 .1,.5 .4,-.6 .3,-.7 .4,-1.2 .3,-.6 0,1.2 .4,0 .3,-.3 .4,-1.4 .3,1 .1,-.9 .3,-4.7 .3,-6 .4,-6.6 .1,-1.6 .2,-7 .4,-7.9 .3,-7.8 0,.6 .4,-4.4 .3,-3.8 .4,-4.6 .3,-4.1 0,.1 .4,-2.8 .1,-.2 .2,-.8 .4,-1.5 0,.5 .3,.9 .4,.7 .3,1.4 0,.9 .4,2.2 .3,3.3 .3,1.4 .1,5.4 .3,14.8 .3,9.8 .1,3.7 .3,8.3 .2,2.8 .2,1.6 .3,2.1 .4,3.4 .3,1.2 .4,3 .3,3.7 .1,-.7 .3,1 .3,.4 0,-.7 .4,-.6 .3,-1 .1,-1 .3,.3 .3,-.1 .4,-.7 .2,-1.8 .1,.2 .4,-.6 .3,1.1 .4,-.5 .1,-.1 .2,-1.1 .4,-.4 .3,.3 .4,-.3 0,-.5 .3,.5 .4,.2 .3,-.3 .3,-.8 .1,-.6 .3,.7 .4,0 .3,-.5 .2,-.2 .2,-3.6 .3,-5.3 .4,-6.5 .2,-3.3 .1,-4.3 .4,-8.4 .3,-8.1 .1,-1.9 .3,-17.1 0,.5 .3,-1.6 .2,-1.6 .2,.2 .3,-1.7 .1,-.3 .3,.2 .3,1.3 .4,2 0,-.6 .3,3.5 .4,3.3 .3,2.5 0,2 .4,15.2 .3,13.2 0,1 .4,8.2 .2,4.5 .1,.7 .4,3.2 .3,2.5 .4,3.9 .3,1.2 .3,3.1 .1,1.7 .3,-.7 .2,0 .2,-.1 .3,-.5 .3,-1.7 .1,.3 .3,-.9 .4,-.8 .3,1.3 .1,-1.8 .3,-.4 .3,-.2 .4,.4 .3,-.2 0,.2 .4,-.9 .3,-1.5 .4,.5 .3,-.9 .4,-.7 .3,.4 .4,-.1 .2,.3 .1,-.9 .4,.5 .3,-.3 .4,-1.1 .1,.2 .2,-4.5 .4,-5.1 .3,-8 .2,-1.4 .2,-5.6 .3,-7.9 .4,-7.8 0,-.8 .3,-5.6 .4,-6.5 .3,-3.5 0,-2.1 .4,-10.3 0,-1.4 .3,-4.8 .4,-3.8 0,-.7 .3,5.2 .4,5.5 0,-.8 .3,6.8 .4,5.3 0,.3 .3,3.4 .3,3.6 .1,3.6 .3,15.9 .3,10.8 .1,2.2 .3,8 .2,3.5 .2,.6 .3,6.1 .4,3.5 .2,2.6 .1,.1 .4,.3 .1,.7 .2,-.2 .4,-.8 .2,-1.8 .1,-.4 .4,.7 .3,-1.9 .4,1 0,-1.1 .3,-.8 .4,.8 .3,.1 .3,-1.9 .1,1.6 .3,-1.1 .4,.8 .3,-1.1 .3,-.7 .1,1 .3,.1 .4,.5 .3,-.3 .2,-.6 .2,-.7 .3,-.5 .4,-.2 .3,-.5 .1,.2 .3,-6.3 .3,-4.4 .4,-6 .1,-.3 .2,-7.1 .4,-9.2 .3,-6.8 0,-1.6 .4,-4.3 .3,-5.2 .4,-2.8 .2,-3.1 .1,-5.4 .3,-6.9 .1,-.8 .3,-5.3 .3,-3.6 .1,.8 .3,5.4 .3,4.1 .1,2.1 .3,4.8 .3,3.9 .1,2.4 .3,2.9 .2,2.9 .2,8.1 .3,15.4 .2,6.9 .2,4 .3,8.3 .1,.2 .3,3.9 .3,5.3 .4,4.9 .3,3.8 0,.6 .4,-.2 .2,.4 .1,-.1 .4,-1.7 .3,-1.1 0,-.7 .4,.6 .3,-1.7 .4,.2 .1,-1.2 .2,1 .4,-1.7 .3,.5 .4,-1.8 .1,.5 .2,.7 .4,-1.3 .3,.3 .4,-.5 .1,-1 .2,1 .4,-.5 .3,-1.5 .4,.3 .1,-.9 .2,-.3 .4,.2 .3,-.7 .4,1.3 .1,-2.2 .2,-3 .4,-5.8 .3,-7.6 .2,-2.5 .2,-3.6 .3,-9.1 .4,-8.1 0,.4 .3,-6.2 .4,-5.8 .3,-6.3 .1,.8 .3,-7.5 .1,-1.6 .2,-2.6 .4,-4.5 .1,.6 .2,2.4 .4,3.8 .1,-.1 .2,3.6 .4,4.3 .1,1.3 .2,2.5 .4,4.9 0,-.1 .3,15.1 .4,14.5 0,1 .3,7.6 .3,4.2 .1,2.1 .3,3.6 .4,3.9 .3,2.6 .4,3.4 .3,3.1 .1,1.2 .3,.1 .3,.7 0,-.3 .4,-.5 .3,-1.8 .1,-.8 .3,.7 .3,-1.3 .4,0 .2,-.3 .1,.2 .4,-.6 .3,-1.4 .4,-.3 .1,-.9 .2,1.4 .4,-1 .3,.1 .4,-1.3 0,-1 .3,1.4 .4,-1.4 .3,-.6 .4,-.6 0,.3 .3,-.7 .4,-1.7 .3,.9 .3,-1.3 .1,-1.6 .3,-4.8 .4,-6.4 .3,-5.8 0,-2 .4,-7.5 .3,-8.3 .2,-4 .2,-3 .3,-3.7 .4,-4.2 .3,-3.1 .3,-2.5 .1,-3.4 .3,-11.3 0,-.3 .4,-5.7 .3,-5.6 0,1.1 .4,7.4 .3,4.2 0,1.3 .4,5.9 .3,5.9 0,-.4 .4,5.1 .2,3 .1,6.9 .4,14.5 .2,8.3 .1,3.1 .4,7.8 .1,2.6 .2,2.9 .4,2.7 .3,4.4 .4,2.4 .2,1.5 .1,.8 .4,.5 .1,.4 .2,.5 .4,-1.9 .2,-.5 .1,.3 .4,-.5 .3,-1.6 .4,.4 0,-.5 .3,-.4 .4,.1 .3,-1.2 .3,.3 .1,.1 .3,-.1 .4,-1.1 .3,-.3 .1,.4 .3,.1 .3,-.5 .4,0 .3,-1.1 .4,-.1 .3,-.8 .4,-.6 .2,.9 .1,-3.6 .4,-6.3 .3,-5 .3,-3.5 .1,-3.4 .3,-7.9 .4,-9.5 .1,-2.5 .2,-3.3 .4,-4.3 .3,-3.5 .4,-6.2 0,1.5 .3,-17 .1,-1.8 .3,-6.1 .3,-8 .1,-1.3 .3,5.9 .3,9.2 .1,.4 .3,9.4 .3,7.1 .1,1.4 .3,2.8 .3,3.8 0,1.7 .4,16.3 .3,12.2 0,1.6 .4,7.5 .2,4.7 .1,2.1 .4,1.3 .3,2.1 .4,3.8 .2,.6 .1,.7 .4,1.7 .1,-.8 .2,.1 .4,-2.1 .2,.5 .1,-.3 .4,-1.6 .3,-.4 .4,-1 0,.6 .3,.7 .4,-1.2 .3,1.4 .2,-1.1 .2,.3 .3,-.4 .4,2.2 .3,-1 .1,.1 .3,-.4 .3,1.1 .4,-1.7 .2,1.3 .1,1.2 .4,-1.5 .3,.2 .4,.3 .1,-.8 .2,.5 .4,.5 .3,-.4 .3,.1 .1,-2.3 .3,-6 .4,-6.6 .3,-4.7 0,-1.6 .4,-9.1 .3,-9.8 .2,-1.9 .2,-2.8 .3,-5.9 .4,-5.5 .3,-3.8 0,-.8 .4,-14.3 0,.3 .3,-6.2 .4,-6 0,-.7 .3,6.8 .4,6.5 0,1.2 .3,7.1 .4,6.6 0,-.7 .3,4.4 .3,3.7 .1,3.6 .3,15.9 .3,10.4 .1,2.3 .3,8.4 .2,3.4 .2,.5 .3,2.4 .4,3.6 .3,.2 .4,2.6 .3,3 .4,1.5 .3,1.7 .1,.1 .3,1.7 .3,1.1 .4,-2 .3,-.7 .1,-1.3 .3,.2 .3,-1.1 .4,-.1 .3,0 .4,-1.5 .3,.9 .4,-1.4 .1,-.4 .2,.2 .4,-1 .3,.4 .4,-.1 .1,-.4 .2,-.1 .4,-1.1 .3,-.4 .4,-1.4 0,.8 .3,-1 .4,-.3 .3,-.4 .3,-.2 .1,-2.6 .3,-5.8 .4,-5.1 .3,-4.5 0,-1.3 .4,-8.3 .3,-8.3 .2,-4.1 .2,-4.1 .3,-7.2 .4,-6.5 0,.2 .3,-9.6 .1,-1.5 .3,-4.2 .3,-4.8 .1,-.3 .3,4.1 .3,5 .1,.8 .3,4.2 .3,5.2 .1,1.7 .3,3.4 .3,3.2 0,2 .4,16.5 .3,11.2 0,1.4 .4,8.5 .2,3.9 .1,2.6 .4,5.5 .3,4 .4,4.4 .3,4.5 .2,1.7 .2,.9 .3,.3 .1,0 .3,-.8 .3,-.8 .2,-.8 .2,-.2 .3,-2 .4,1.2 .3,.1 0,-.7 .4,-1.6 .3,-.9 .4,-.1 .3,-1.3 0,.9 .4,-1 .3,.4 .4,-.1 .3,-2.3 0,1.3 .4,-1.4 .3,-1.3 .4,-.4 .3,-.6 .1,.6 .3,-1.9 .3,.8 .4,0 .3,-1.4 .1,-.1 .3,-.8 .3,-1.2 .4,.4 .3,-.7 .1,.1 .3,-4 .3,-6.8 .4,-6 .1,-1 .2,-7.8 .4,-8.4 .3,-6.9 0,-3 .3,-13.4 .1,-3.4 .3,-7.5 0,-.8 .4,-5.2 .3,-4.7 0,1.3 .4,5.1 .3,3.2 0,1.6 .4,5.7 .3,4.4 0,1.3 .4,3.9 .2,1.2 .1,7 .4,14.5 .2,9.3 .1,2.7 .4,9.2 .1,2 .2,1.6 .4,1.1 .3,1 .4,3.5 .3,.6 .4,2.6 .2,.4 .1,.5 .4,1.6 .1,-.6 .2,-.3 .4,-2.8 .2,.6 .1,-.9 .4,-.5 .3,-.5 .4,-.4 0,.7 .3,-1.8 .4,1.1 .3,-.4 .3,1.1 .1,-.9 .3,.3 .4,-.7 .3,.4 .2,.1 .2,-.8 .3,.3 .4,-.7 .3,1 .1,.3 .3,-.8 .3,.8 .4,-1.8 .3,.1 0,-.6 .4,-5.5 .3,-5.8 .4,-6.1 .3,-8.2 .4,-9.2 .2,-5.3 .1,-2.3 .4,-3.6 .3,-7.8 .3,-2.7 .1,-2.5 .3,-10.9 0,-1.5 .4,-5.5 .3,-4.5 0,1 .4,5 .3,6.2 0,.6 .4,7.1 .3,5.9 0,-.4 .4,3.5 .2,3.3 .1,7.2 .4,14.4 .2,8.3 .1,4.7 .4,6.3 .1,3.4 .2,.8 .4,2.7 .3,2.3 .4,3.2 .3,.9 .3,1.9 .1,-.3 .3,2 .2,-.2 .2,-.2 .3,-2 .3,-.5 .1,.6 .3,-1.2 .4,-.2 .3,-.6 .1,-.6 .3,-.8 .3,1.2 .4,-.6 .3,.2 0,-1.6 .4,.1 .3,-.3 .4,.6 .3,1 0,-.3 .4,-.6 .3,-.2 .4,.1 .2,-.7 .1,.3 .4,-.3 .3,-1.4 .4,.9 .1,.9 .2,-5.3 .4,-5.8 .3,-6.3 .2,-2.5 .2,-4 .3,-9.3 .4,-9 0,-1.1 .3,-8.5 .3,-7.9 .1,-1.6 .3,-3.8 0,-.4 .4,-3.9 .3,-.5 0,.1 .4,2.1 .3,3.1 0,-.8 .4,3.4 .3,2.6 0,.8 .4,5.1 .2,1.2 .1,6.5 .4,15.1 .2,9.2 .1,3.2 .4,8.8 .1,1.5 .2,2.2 .4,3.8 .3,3.8 .4,2.9 .2,2.7 .1,1.2 .4,-.5 .1,.6 .2,-.1 .4,-2.4 .2,-.8 .1,-.4 .4,.3 .3,-.5 .4,-1 0,.1 .3,.4 .4,-.6 .3,-1.6 .2,.6 .2,-.1 .3,-.1 .4,-.8 .3,-.6 0,.1 .4,-.8 .3,.9 .4,-.4 .2,.5 .1,-1 .4,-.1 .3,-.6 .4,-.4 0,.9 .3,-.9 .4,.2 .3,-1.1 .2,.6 .2,-4.4 .3,-5.2 .4,-5.9 .2,-2.8 .1,-3.9 .4,-8.7 .3,-8 .1,-1.6 .3,-3.8 .3,-4.4 .4,-5 .3,-4.1 0,-1.5 .4,-13.7 0,.4 .3,-6.1 .4,-6.8 0,-.6 .3,6.3 .4,7.5 .3,8 .4,6.5 0,.1 .3,4.6 .3,2.2 .1,4.5 .3,16 .3,10.6 .1,1.9 .3,7.9 .2,2.8 .2,2.7 .3,3 .4,3.4 0,-.4 .3,1.1 .3,.6 .1,-.1 .3,-.6 .4,-1.8 0,-1.1 .3,-.2 .4,-1 .3,-.1 .2,.5 .2,0 .3,-.3 .4,.7 .3,-.3 .1,-.3 .3,-.1 .3,.3 .4,1.2 .3,-1.6 0,1.4 .4,.1 .3,-.8 .4,.1 .3,-.3 0,.4 .4,.7 .3,-.1 .4,.8 .2,.3 .1,-3.1 .4,-6 .3,-6.3 .3,-4 .1,-3.3 .3,-7.7 .4,-8.7 .1,-3 .2,-.3 .4,-4.4 .3,-2.6 .4,-2.1 .3,-3.9 .4,-2.1 .2,-2 .1,-3.8 .3,-6.4 .1,-1 .3,-4.1 .3,-3.4 .1,1.6 .3,4.4 .3,2.8 .1,2.4 .3,4.4 .3,3.6 .1,2.4 .3,3.7 .2,1.4 .2,8.9 .3,15 .2,5.2 .2,5.4 .3,7.6 .1,1.8 .3,3.8 .3,5.9 .2,1.7 .2,-.3 .3,1.3 .1,-.5 .3,-.4 .3,-.9 .2,-.7 .2,-1.5 .3,.3 .4,-.2 .3,-.6 0,.5 .4,-1.4 .3,1 .4,-.7 .2,.4 .1,.1 .4,-.1 .3,-.9 .4,.2 .2,-.8 .1,-.1 .4,1.1 .3,-.3 .4,-.8 .1,.4 .2,.5 .4,.9 .3,-.3 .4,-.1 .1,-1.4 .2,.8 .4,.2 .3,-.2 .4,-.2 0,-.3 .3,-4.8 .4,-6.1 .3,-6.7 .1,-1.4 .3,-5.6 .3,-10 .3,-5.2 .1,-1 .3,-6.5 .4,-4.3 .3,-5.3 .1,-.2 .3,-15.6 .1,-4.3 .2,-7.4 .4,-9.6 .1,-2 .2,6 .4,9.5 .1,4.2 .2,5.5 .4,10.2 .1,3.2 .2,2.9 .3,2.9 .1,5.7 .3,12.6 .4,13.8 .3,11.9 0,.9 .4,8.7 .3,9.4 .3,7.5 .1,-.1 .3,3.1 .4,1.7 .3,3.5 0,-.7 .4,1.1 .3,-.5 .4,.2 .3,0 .4,-.2 .3,-.5 .3,1.2 .1,-1.1 .3,0 .4,.3 .3,-.3 .4,.4 .3,.3 .4,-.6 .3,-2.3 .4,-1.6 .3,-3.7 .4,-.9 .3,-2.8 .1,-.5 .3,-1.2 .3,-2.3 .4,-1.7 .3,-1.5 0,-2 .4,.4 .3,.3 .4,-1.4 .3,-.3 0,-.8 .4,-1.1 .3,-.1 .4,.8 .2,0 .1,-.9 .4,.2 .3,.3 .4,-1.1 .3,.8 .4,1.1 .3,.3 .4,-1.3 .3,1.1 .4,-1.3 .3,-.2 .4,-.8 .3,1.8 .4,-.7 .3,1.5 .4,-1.1 .3,-.1 .4,-1.1 .3,1.8 .4,-1 .3,.1 .4,-1.1 .3,1.7 .4,0 .3,-.9 .4,.4 .3,.2 .4,.3 .3,-.5 .4,.9 .3,-1.1 .4,-.2 .3,.1 .4,-1.1 .3,.9 .4,1 .3,-.4 .4,-.6 .3,.7 .4,-1.3 .3,.9 .4,.5 .3,.1 .4,-.9 .3,1 .4,.5 .3,-1.3 .4,.7 .3,-1.3 .4,-.2 .3,1.4 .4,-.3 .3,.1 .4,-.4 .3,.1 .4,.6 .3,.5 .4,-1 .3,-.8 .4,1.6 .3,-.4 .4,0 .3,-.2 .4,1.1 .3,-1.2 .4,.3 .3,-1.3 .4,.7 .3,-.1 .4,.4 .3,.2 .4,-.6 .3,1.3 .4,-1.5 .3,.3 .4,.4 .3,-.8 .4,1 .3,0 .4,-.5 .3,1.2 .4,-1 .3,.1 .4,-.7 .3,-.3 .4,.5 .3,.2 .4,-.1 .3,.7 .4,-1.7 .3,.6 .4,-.3 .3,1.7 .4,-1 .3,0 .4,-.3 .3,1.1 .4,-.8 .3,.4 .4,-1.2 .3,1.7 .4,-.4 .3,.1 .4,.4 .3,-.8 .4,0 .3,.5 .4,-.2 .3,-.4 .4,.2 .3,-.3 .4,.7 .3,.1 .4,-.5 .3,1 .4,-1.9 .3,.7 .4,1.1 .3,-1.2 .4,-.6 .3,1.6 .4,-.4 .3,-1 .4,1.1 .3,-1 .4,-.2 .3,.7 .4,-.2 .3,-.3 .4,.4 .3,-.4 .4,.6 .3,0 .4,.4 .3,-.7 .4,-.5 .3,0 .4,.6 .3,1 .4,-.4 .3,-.8 .4,.9 .3,-1.2 .4,1.2 .3,-.7 .4,.6 .3,-.1 .4,-.5 .3,.4 .4,-.8 .3,.5 .4,.7 .3,1.6 .4,-1.8 .3,-.4 .4,-.6 .3,1.2 .4,-1.5 .3,.4 .4,.7 .3,-.9 .4,1.5 .3,-.2 .4,-.9 .3,0 .4,-.5 .3,0 .4,1 .3,.1 .4,-.1 .3,-.1 .4,-.4 .3,.5 .4,-1 .3,.8 .4,.8 .3,-.1 .4,-1 .3,.1 .4,.9 .3,.3 .4,-1.9 .3,.6 .2,.4" stroke="#1b78c0"/>
<path d="M72.3 365.2l.3,1.2 .4,.2 .3,1.1 .4,-2.7 .3,1.4 .4,1.1 .3,-1.5 .4,.9 .3,1.8 .4,-.3 .2,-1.5 .1,1.6 .4,-.1 .3,-.2 .4,-.3 .3,0 .4,-.7 .3,.3 .4,.9 .3,-.3 .4,1.2 .3,-1.4 .4,-1.4 .3,1.5 .4,.5 .3,.1 .4,-.2 .3,-.5 .4,1.6 .3,-1.4 .4,1 .3,-.6 .4,-.6 .3,1.9 .4,-2.7 .3,1.2 .4,1 .1,-.6 .2,.8 .4,-.6 .3,-.3 .4,1.8 .3,-1.6 .4,0 .3,-.7 .4,.3 .3,.9 .4,-.1 .3,-.4 .4,-.5 .3,1 .4,-1.7 .3,.9 .4,.1 .3,-.4 .4,.6 .3,-.5 .4,-.2 .3,1.9 .4,-.8 .3,.3 .4,-.8 .3,.6 .4,-.1 .3,.3 .4,.8 .3,-1.9 .4,.4 .3,-.3 .4,-2.4 .3,1.5 .4,.9 .3,.4 .4,-.8 .3,1.2 .4,.1 .3,-1.2 .4,1.2 .3,.2 .4,-.9 .3,-1 .4,1.7 .3,-1.1 .4,-.2 .3,.3 .4,-.4 .3,1.1 .4,-.3 0,.4 .3,.1 .4,-.3 .3,1 .4,1.4 .3,-.3 .4,2.9 0,-2.2 .3,1.3 .4,2.7 .3,1.3 .4,.9 .1,.3 .2,.1 .4,-.4 .3,-.6 .4,-1.4 .3,-.1 .4,-.3 0,-.1 .3,-2.9 .4,1.2 .3,-.2 .4,.1 .3,0 .4,.3 .3,-.5 .1,-.6 .3,.9 .3,2.1 .4,-.8 .3,1.5 .4,1.7 .3,-.1 0,-1.5 .4,2.8 .3,.6 .4,1.3 .3,1.9 .4,.7 .3,.6 .1,.9 .3,-1.8 .3,-1.9 .4,-1.6 .3,-1.8 .4,-2.1 .1,-.6 .2,-.2 .4,-1.4 .3,-1 .4,1.1 .3,-1.8 .4,-.6 .3,-.7 0,.1 .4,.3 .3,.2 .4,-.3 .3,1.4 .4,-.9 .3,1.5 .4,-1.9 .2,.8 .1,1.6 .4,-.2 .3,.2 .4,1.2 .3,-.4 .4,1.3 .3,-1.1 0,1.5 .4,1.7 .3,2.6 .4,2.1 0,-1.2 .3,.3 .4,-3 .3,-2.5 .4,-1.7 .1,2.4 .2,-1.8 .4,-1.3 .3,-1 .4,-1.2 .3,1 0,-.8 .4,2.6 .3,-.1 .4,-.3 .3,3.4 0,-.6 .4,1.6 .3,2.8 .4,.3 .3,2.3 0,-1.1 .4,-2.6 .3,-1.2 .4,-2.9 .3,-.8 .4,-2.2 0,-.7 .3,-.4 .4,-1 .3,-1.4 .2,.4 .2,-.4 .3,1.1 .4,-.6 .3,1.3 .4,.8 .3,-.3 .3,.7 .1,-.1 .3,.9 .4,-1 .3,.8 .4,.8 .3,-.8 .3,-1.4 .1,1.3 .3,1.2 .4,-.4 .3,1.5 .4,.2 .3,.4 .4,0 0,-.2 .3,2.6 .4,2.6 .3,2.7 .1,.3 .3,-2.1 .3,-1.5 .4,-1.6 .3,-3.2 .2,-.2 .2,-.6 .3,-.5 .4,-1 .3,-1 .4,-1.3 0,1 .3,1.1 .4,0 .3,2.5 .4,.5 0,2 .3,.3 .4,1.8 .3,2.2 .4,1.6 0,.1 .3,-1.9 .4,-3.8 .3,-2.6 .4,-2.7 .3,-4.4 .1,1.4 .3,-1.5 .3,-.6 .4,-2.2 .2,.7 .1,-.1 .4,-.4 .3,2.4 .4,-.9 .3,-.2 .4,.7 .3,.8 0,.2 .4,0 .3,.9 .4,.6 .3,-1.5 .4,1 .3,0 0,.9 .4,1.7 .3,.2 .4,-.4 .3,1.2 .4,1.7 .3,-.4 0,.7 .4,3.1 .3,1.4 .4,4.6 0,-.3 .3,-1.8 .4,-3 .3,-1.8 .4,-1.8 .1,.1 .2,-.8 .4,-.8 .3,.2 .4,-1.2 .3,-2.2 0,.3 .4,2.9 .3,-.2 .4,2.5 .3,1.2 0,-1.2 .4,2.1 .3,2.1 .4,1.2 .3,1.6 0,-.1 .4,-2.4 .3,-4.3 .4,-3.1 .3,-3.5 .4,-3.9 0,2 .3,-3.6 .4,.3 .3,0 .2,-1.8 .2,1.7 .3,.9 .4,-1.1 .3,1.2 .4,-.5 .3,1.5 .3,0 .1,.2 .3,1 .4,-.4 .3,.8 .4,-.3 .3,-1 .4,1.2 .3,.4 .1,-1.4 .3,2.9 .3,.1 .4,1.3 .3,.1 .4,1.7 .3,1.2 .4,.6 .2,.9 .1,-.8 .4,4.3 .3,0 .3,.6 .1,.4 .3,-1.3 .4,-.5 .3,-2.4 .4,-.6 0,-.9 .3,1.6 .4,-1.9 .3,.3 .4,-2.8 .2,.8 .1,-.7 .4,2.1 .3,1.1 .4,-.5 .2,.9 .1,.8 .4,1.8 .3,2.5 .4,1.9 .2,.8 .1,-.3 .4,-2.6 .3,-4.4 .4,-2.4 .3,-2.6 .3,-2.4 .1,-.5 .3,.2 .4,-.9 .3,-1 .1,-.7 .3,1.9 .3,.4 .4,-1 .3,.7 .4,1.4 .3,-.9 .2,1.1 .2,-.1 .3,-.4 .4,.6 .3,-.7 .4,.9 .3,-.8 .4,3.2 .3,-.4 .4,-.1 .3,1.1 .4,.9 .3,.4 .4,.6 .3,-.7 .4,1.6 0,-.7 .3,2.2 .4,2.8 .3,3.8 .1,.8 .3,-3.3 .3,.2 .4,-2.1 .3,-3.2 .2,-.9 .2,-.3 .3,-.1 .4,-1.9 .3,-1.4 .4,.1 0,-1.7 .3,2.8 .4,2 .3,.7 .4,1.6 0,-.2 .3,2.1 .4,1.5 .3,1.2 .4,2.3 0,.1 .3,-2.2 .4,-2.8 .3,-4 .4,-4 .3,-3.1 .1,0 .3,.3 .3,-1.6 .4,-1.1 .2,-1 .1,1.3 .4,.1 .3,.2 .4,.6 .3,1.6 .4,-.8 .3,1.7 0,-.2 .4,-.5 .3,.9 .4,-.3 .3,-.2 .4,.8 .3,-.1 0,1 .4,.4 .3,1.1 .4,1 .3,-2 .4,3.1 .3,-.7 .1,1.5 .3,1.5 .3,3.2 .4,3.5 .1,-1.4 .2,0 .4,-1.9 .3,-3 .4,0 .2,-1.4 .1,-.8 .4,-1.2 .3,1.7 .4,-3.6 .3,-2 .1,.4 .3,1.7 .3,1.4 .4,1.7 .3,.8 .1,1.3 .3,.5 .3,.8 .4,1.8 .3,1.7 .1,1.1 .3,-2.5 .3,-3.1 .4,-2.3 .3,-2.5 .4,-1.2 .1,-2.6 .2,.1 .4,-.7 .3,-2 .3,.1 .1,.1 .3,-.2 .4,1 .3,.6 .4,.4 .3,-.7 .4,.5 0,1.6 .3,-2 .4,1.4 .3,.9 .4,0 .3,.8 .4,.1 .3,.9 0,.4 .4,-.6 .3,.9 .4,.3 .3,.3 .4,.8 .3,-.2 .4,1.8 0,.7 .3,2.9 .4,2.5 .3,1.3 .1,2.2 .3,-4 .3,-2.3 .4,-1.5 .3,-4.9 .4,-1.5 0,-.4 .3,-2.6 .4,-2.9 .3,-1.4 .4,-3 0,1 .3,3 .4,1 .3,3.4 .3,2.1 .1,.2 .3,2.6 .4,3.5 .3,2.4 .4,1.5 0,.8 .3,-1.6 .4,-3.6 .3,-2.2 .4,-.6 .3,-2.5 .1,-2.4 .3,-.6 .3,.3 .4,-1.9 .2,.1 .1,0 .4,1 .3,-1.9 .4,.6 .3,.9 .4,1.9 .3,-.6 0,-1 .4,2.1 .3,.6 .4,-.1 .3,.5 .4,1 .3,1.1 .2,-.6 .2,.5 .3,0 .4,.2 .3,.1 .4,1.2 .3,0 .3,.4 .1,1.4 .3,1.9 .4,2.4 .3,.2 0,1.1 .4,-3.1 .3,-2.4 .4,-2.4 .3,-.8 .3,-1.9 .1,-1.7 .3,-2.6 .4,-1.4 .3,-2.6 .3,-.1 .1,-1.5 .3,2.5 .4,3.8 .3,2.9 .2,1.2 .2,2.1 .3,3.8 .4,1.2 .3,2.8 .3,1.2 .1,.7 .3,-2.2 .4,-3.4 .3,-1.6 .4,-3.4 .3,-1.2 0,-1 .4,-1.8 .3,-.6 .4,-1.5 .1,-.4 .2,1.6 .4,.7 .3,1.1 .4,-1.1 .3,.2 .4,-.3 .2,1.7 .1,-.2 .4,-.2 .3,1.4 .4,.4 .3,-1.2 .4,2.3 .3,.1 .2,-.1 .2,.1 .3,1.7 .4,.1 .3,.5 .4,-1.9 .3,.6 .4,1.3 .1,-1.4 .2,2.4 .4,2.1 .3,5.4 .2,.7 .2,-1.9 .3,-2.7 .4,-3.1 .3,-2.5 .4,-1.9 .1,-1.7 .2,-.2 .4,-3.3 .3,-2.4 .4,-.6 .1,-1.6 .2,2.3 .4,1.9 .3,1.3 .4,4.5 0,-1.3 .3,4.3 .4,.7 .3,2.4 .4,4.2 .1,.8 .2,-2 .4,-3.4 .3,-1 .4,-4.1 .3,-1.8 .2,-1.3 .2,-.2 .3,0 .4,-1.9 .3,.1 0,.2 .4,-1.2 .3,.9 .4,1.1 .3,.4 .4,1.2 .3,-1.1 .1,2 .3,.1 .3,-.6 .4,-.7 .3,1 .4,-.3 .3,.9 .4,-.4 .3,.7 0,-.8 .4,1.8 .3,-2 .4,1.4 .3,1.6 .4,-.9 .3,2.2 .4,-.9 .3,1.4 0,-.4 .4,2.2 .3,2.4 .4,1.7 0,-.2 .3,-1.4 .4,-4.7 .3,-3.8 .4,-1.9 .3,-2.8 0,-.2 .4,-2.9 .3,-5.2 .4,-1.9 .3,-2.7 0,-.3 .4,4 .3,1.5 .4,5.5 .2,3.9 .1,-1 .4,4.6 .3,4.2 .4,3.9 .3,3.9 0,-2.8 .4,-1 .3,-1.8 .4,-3.9 .3,-1.5 .4,-1 0,-.4 .3,-1.4 .4,-3.1 .3,.9 .2,0 .2,-.3 .3,.6 .4,2.7 .3,-1.9 .4,-.1 .3,1.3 .3,-.1 .1,.1 .3,.5 .4,.8 .3,-.1 .4,-.7 .3,1 .4,.7 .1,-.5 .2,1.3 .4,.2 .3,-.8 .4,1.3 .3,1.6 .4,.1 .3,-.8 .1,.8 .3,1 .3,1.9 .4,3.9 .1,.5 .2,-2.5 .4,-4.1 .3,-3.5 .4,-4.3 .3,-3 .1,-.3 .3,-3.7 .3,-3 .4,-5.4 .3,-2.9 .1,1 .3,3.8 .3,3.1 .4,3.9 .3,2.8 0,1.7 .4,4.1 .3,2.3 .4,5.3 .3,3.9 .1,.5 .3,-3 .3,-1 .4,-3.6 .3,-.1 .4,-3.1 .1,-1.5 .2,1.1 .4,-1 .3,-2.1 .3,1.3 .1,-2.1 .3,1.1 .4,.9 .3,-2.2 .4,2.5 .3,-.5 .4,.3 0,-.7 .3,1.4 .4,-.6 .3,.5 .4,.8 .3,-.1 .4,2.4 .3,-1.6 .4,.8 0,.3 .3,.5 .4,.7 .3,.3 .4,-.6 .3,.2 .4,.5 .3,.8 .4,.1 0,-.9 .3,1.3 .4,5.4 .3,1.5 .1,-.1 .3,-3.2 .3,-4.5 .4,-4.1 .3,-3.4 .4,-3.7 0,-.3 .3,-4.4 .4,-3 .3,-3.3 .4,-4.5 0,.3 .3,3 .4,5.7 .3,4.4 .3,2.4 .1,.8 .3,5.8 .4,3.3 .3,5.2 .4,3.5 0,.8 .3,-3.1 .4,-3.2 .3,-1.4 .4,-2.5 .3,-1.7 .1,-1.1 .3,-.7 .3,0 .4,-.7 .2,-.8 .1,.5 .4,.1 .3,.7 .4,.6 .3,.2 .4,.3 .3,.6 0,1.6 .4,-1.6 .3,-.1 .4,0 .3,.3 .4,.3 .3,-.9 .4,-.5 .3,1.7 0,-1.3 .4,1.7 .3,.4 .4,1.2 .3,.8 .4,-.5 .3,-.1 .4,0 .3,.7 .1,.7 .3,0 .3,3.3 .4,1.8 .1,1 .2,-2.7 .4,-2.4 .3,-3.3 .4,-2.6 .3,-3.6 .1,.9 .3,-1.4 .3,-3.8 .4,-2.6 .3,-3.8 .1,1.3 .3,1.3 .3,4.4 .4,2.8 .3,2.1 0,1.9 .4,2.6 .3,3.5 .4,3.6 .3,3 .1,.3 .3,-1.6 .3,-3 .4,-2.2 .3,-3 .4,-3 .1,-.2 .2,-.5 .4,-.5 .3,0 .3,-2.7 .1,1.4 .3,-1.1 .4,1.4 .3,.9 .4,-.7 .3,.8 .4,2 0,-.1 .3,0 .4,-.5 .3,2.1 .4,-1.5 .3,-.5 .4,1.9 .3,-.7 .4,-.7 .1,1.1 .2,-.4 .4,.8 .3,.1 .4,-.4 .3,1.8 .4,-.1 .3,-.4 .4,.6 .3,1.6 0,-.6 .4,2.3 .3,2.4 .4,1.6 0,-1.1 .3,-1.1 .4,-2.3 .3,-2.5 .4,-2 .3,-3 0,-.1 .4,-1.9 .3,-3.8 .4,-1.1 .3,-2.1 0,-.2 .4,3.6 .3,2.3 .4,1.7 .2,3.1 .1,.6 .4,2.7 .3,2.6 .4,3.5 .3,1.7 0,-1.1 .4,-1.4 .3,-2 .4,-3.2 .3,-1.9 .4,-2.2 0,-.1 .3,-.2 .4,-.4 .3,-.3 .2,-.9 .2,.1 .3,.5 .4,.5 .3,-.8 .4,1.1 .3,.1 .3,0 .1,-.2 .3,.3 .4,.5 .3,-.3 .4,1.6 .3,-.1 .4,.4 .3,.5 .1,.4 .3,-.8 .3,.6 .4,-.8 .3,-.2 .4,.4 .3,2.6 .4,-2.1 .3,1.8 0,1.1 .4,1.6 .3,4.4 .4,3.1 0,-.6 .3,-2.5 .4,-4.7 .3,-4.5 .4,-2.6 .3,-3.7 0,-1 .4,-3.2 .3,-.6 .4,-5.2 .3,-2.3 0,.1 .4,4.2 .3,3.4 .4,3.6 .2,1.5 .1,1.3 .4,3.8 .3,4 .4,4.5 .3,2.2 0,.2 .4,-3.1 .3,-2.5 .4,-3 .3,-1.2 .4,-3.7 0,1.3 .3,.5 .4,-1.8 .3,-.3 .2,-1.5 .2,-.5 .3,1 .4,.4 .3,1.4 .4,.9 .3,-1.6 .3,.5 .1,.2 .3,.2 .4,-.3 .3,1.3 .4,.5 .3,.4 .4,-.8 .1,.8 .2,-.8 .4,2.2 .3,-1 .4,1 .3,.2 .4,.3 .3,0 0,-.2 .4,4.8 .3,1.2 .4,2.3 0,1.3 .3,-4.1 .4,-2.1 .3,-2.9 .4,-1.7 .3,-2.6 0,-.5 .4,-2.9 .3,-2.1 .4,-1.8 .3,-4.4 0,1.8 .4,2.7 .3,3 .4,1.8 .2,3.5 .1,.1 .4,3.1 .3,2.5 .4,1.8 .3,3.2 0,-1.3 .4,-1.7 .3,-1.8 .4,-2 .3,-2.2 .4,-2.4 0,1.6 .3,-2 .4,-2.1 .3,-.4 .2,-.4 .2,.5 .3,0 .4,.1 .3,2.1 .4,-.8 .3,0 .3,.3 .1,.1 .3,1.4 .4,-.4 .3,.7 .4,-2.7 .3,2.6 .4,.8 .3,.9 .3,-1.1 .1,-1.2 .3,2.1 .4,-.4 .3,-.3 .4,1.3 .3,1.6 .4,.6 .3,.1 .4,-.8 0,2.5 .3,-.4 .4,2.9 .3,1.2 .1,2.3 .3,-3 .3,-2.5 .4,-3.3 .3,-2.9 .4,-2.6 0,-1.4 .3,-.7 .4,-2.7 .3,-3.6 .4,-2.5 0,.2 .3,4.1 .4,2.4 .3,2.9 .3,1.9 .1,.2 .3,3.9 .4,3.8 .3,3.1 .4,3.5 0,.5 .3,-2.7 .4,-2.7 .3,-2.2 .4,-2.8 .3,-2.6 .1,0 .3,-2.3 .3,1.2 .4,-2.7 .2,1 .1,-.4 .4,1.2 .3,-.4 .4,-.3 .3,1.8 .4,-.3 .3,.3 .4,.9 .3,.1 .4,-.2 .3,-1 .4,1.1 .3,.6 .4,1.4 .1,-.9 .2,-.1 .4,1.1 .3,-.6 .4,.4 .3,.4 .4,-.9 .3,2 .3,-.1 .1,.1 .3,1.8 .4,3.3 .3,2.8 0,-1.8 .4,-2.7 .3,-1.3 .4,-3.8 .3,-2.9 .3,-.4 .1,-.9 .3,-2 .4,-2.6 .3,-1.7 .3,-2.1 .1,.5 .3,2.9 .4,3.6 .3,3.1 .2,1.1 .2,1.6 .3,.3 .4,4.7 .3,3.6 .3,2.5 .1,-2 .3,-.5 .4,-3.5 .3,-3.3 .4,-2.2 .3,-2.6 0,-.4 .4,0 .3,-1.6 .4,-1.5 .1,.3 .2,.6 .4,-.3 .3,2.1 .4,-1.3 .3,2.4 .4,-.2 .2,-1.1 .1,.8 .4,1 .3,-.7 .4,-.5 .3,1.1 .4,1.5 .3,-2.2 .4,1.7 .2,-.3 .1,.1 .4,.2 .3,.4 .4,1.3 .3,0 .4,-.7 .3,2.1 .4,-1.6 .1,1.4 .2,1.8 .4,3.6 .3,2.4 .2,1.7 .2,-3.4 .3,-3.8 .4,-5 .3,-3.4 .4,-6.5 .1,0 .2,-3.8 .4,-4.7 .3,-5 .4,-3.8 .1,-2.7 .2,3.8 .4,6.6 .3,3.5 .4,7.3 0,-1.2 .2,-12.6 .1,.8 .4,2.3 .3,1.5 .4,2 0,.2 .3,1.5 .4,.7 .3,.8 .3,-.2 .1,-.4 .3,-.9 .4,1.7 .3,.2 .4,-.8 0,.8 .3,.5 .4,-.7 .3,.8 .4,-.4 .3,-1.3 .3,.9 .1,.2 .3,1.2 .4,-.5 .3,.8 .4,.1 .3,1.1 .4,.6 .3,1 .4,.6 .3,1 .4,.9 .3,.9 .4,2 .2,-2.3 .1,1.8 .4,.8 .3,.9 .4,-1.1 .3,1.4 .2,.6 .2,-1 .3,-1 .4,1.1 .3,-.6 .4,1.3 .3,-1 .4,1.8 .3,-1.1 .4,-.7 .3,.2 .4,-.4 .3,1 .4,.8 .3,-1.2 .4,.8 .3,-1.3 .4,.9 .3,1.4 .4,-2.6 .3,1.8 .4,0 .3,-2.1 .4,.3 .3,.3 .4,1.4 .3,-1 .4,.2 .3,.6 .4,-.4 .3,0 .4,-.3 .3,1 .4,-1.4 .3,1.8 .4,-1.4 .3,-.4 .4,1 .3,-.1 .4,-1.7 .3,1.5 .4,-1 .3,.3 .4,1.1 .3,-1.1 .4,.8 .3,-.5 .4,1.7 .3,-1.5 .4,-.7 .3,0 .4,.2 .3,.7 .4,-.1 .3,.7 .4,-.6 .3,0 .4,.1 .3,-.3 .4,.3 .3,.4 .4,0 .3,-1 .4,-.8 .3,.6 .4,.8 .3,-1.9 .4,1.4 .3,.6 .4,-.7 .3,-.4 .4,2 .3,-.2 .4,-1.2 .3,1.1 .4,0 .3,-1.7 .4,2.7 .3,-2.5 .4,.4 .3,-.5 .4,.8 .3,-1 .4,.9 .3,.8 .4,-.6 .3,-.4 .4,1.3 .3,-1.7 .4,1.3 .3,-.9 .4,.4 .3,-.1 .4,0 .3,-.1 .4,-.5 .3,.1 .4,.7 .3,-.3 .4,-.8 .3,.3 .4,.1 .3,.4 .4,.2 .3,-.1 .4,-.5 .3,.5 .4,-1 .3,-1.1 .4,2 .3,-1.1 .4,.5 .3,-.2 .4,1.3 .3,-1.3 .4,1 .3,-.5 .4,-.5 .3,-.3 .4,1.5 .3,-.1 .4,.3 .3,.7 .4,-1.1 .3,0 .4,-.2 .3,.1 .4,-.3 .3,-.4 .4,2 .3,-2.7 .4,1.5 .3,.2 .4,-.2 .3,-.8 .4,.5 .3,-.2 .4,-.4 .3,.7 .4,-.2 .3,-.1 .4,.8 .3,-1.2 .4,1.1 .3,-.8 .4,.8 .3,-.3 .4,.1 .3,-.8 .4,.1 .3,0 .4,.7 .3,.4 .4,.2 .3,-1.1 .4,.4 .3,-1.2 .4,-.4 .3,1 .4,.1 .3,-.6 .4,-.2 .3,1.6 .4,-.9 .3,-.6 .4,2.8 .3,-1.5 .4,-.4 .3,.7 .4,-1 .3,1.7 .4,-2.2 .3,.2 .4,.8 .3,-.5 .4,1.6 .3,-2.1 .4,.6 .3,.6 .4,.3 .3,.3 .4,-.5 .3,1.3 .4,-1.9 .3,.5 .4,.5 .3,-.8 .4,0 .3,-.1 .2,-.2" stroke="#ff7d0b"/>
<path d="M72.3 343.0l.3,-.6 .4,.8 .3,-.8 .4,.4 .3,1 .4,.6 .3,-1 .4,-.8 .3,1 .4,-1.6 .3,.8 .4,1.2 .3,-.4 .4,-1.2 .3,-.1 .4,1.4 .3,-.5 .4,-.3 .3,.5 .4,-.5 .3,-.8 .4,1.5 .3,-.8 .4,-.2 .3,-.1 .4,.8 .3,-.5 .4,.7 .3,-.4 .4,.7 .3,-.8 .4,-.2 .3,-.7 .4,.5 .3,1 .4,1.3 .3,-2.4 .4,.1 .3,.8 .4,.1 .3,-.7 .4,.5 .3,-1 .4,.8 .3,.6 .4,.4 .3,-1 .4,0 .3,.4 .4,.3 .3,-.3 .4,-.7 .3,.6 .4,.4 .3,-1 .4,-.3 .3,1 .4,-.1 .3,.4 .4,-.5 .3,-.4 .4,.1 .3,-.3 .4,0 .3,.2 .4,.1 .3,.9 .4,-1.3 .3,.6 .4,-.3 .3,1.2 .4,-.7 .3,-.4 .4,.7 .3,-.4 .4,-.3 .3,1.1 .4,-.5 .3,.6 .4,-.3 .3,-.2 .4,-.4 .3,-.6 .4,1 .3,-.4 .4,.3 .3,-.3 .4,-.4 .3,-.2 .4,1 .1,.3 .2,-1.6 .4,-.3 .3,-1.7 0,-1.2 .4,3.1 .3,-.2 .4,2.9 .3,-.3 0,.5 .4,0 .3,3 .4,2.8 .3,.6 .3,.4 .1,.7 .3,-4 .4,-1.8 .3,-.8 .3,-1.9 .1,-.5 .3,-1.3 .4,0 .2,-.7 .1,.1 .4,-.1 .3,2.1 .4,1.1 .3,1.3 .4,.3 .1,.5 .2,1 .4,2.4 .3,1.1 .4,.6 .3,1.8 0,-.6 .4,-2.1 .3,-4.5 .4,-1.3 0,-.7 .3,-1.4 .4,-1.3 .3,-3 .3,-1.1 .1,-.9 .3,1.3 .4,-.3 .3,1.7 .4,-2 .3,2.1 .4,.5 0,.9 .3,-2.6 .4,.8 .3,1.6 .4,-1.2 .3,1.1 .4,-1.3 .3,2.6 .1,-.8 .3,-.5 .3,.5 .4,.5 .3,.4 .4,.9 .3,.4 0,.6 .4,1.1 .3,-.5 .4,3 .3,1.6 .4,2.4 .1,-1.3 .2,.3 .4,-1 .3,-4 .4,-2 .3,-3.4 0,2.2 .4,-2.7 .3,.3 .4,-.9 .3,-1.3 0,.2 .4,2.8 .3,1.6 .3,1.4 .1,.5 .3,2.9 .4,4.4 .3,1.2 .1,1.7 .3,-3.7 .3,-1.7 .4,-3.8 .1,-.7 .2,-2.1 .4,-.8 .3,-.5 .3,-2.1 .1,.5 .3,-1.1 .4,1.2 .3,.7 .4,.5 .3,-.4 .4,1.4 .3,-.2 .4,.6 .1,1 .2,.2 .4,-.9 .3,1.3 .4,-.7 .3,1.6 .4,1.1 .3,-.2 .4,1 .3,.3 0,-.7 .4,.7 .3,1.4 .4,.6 .3,1.2 .4,.3 .3,1.5 .4,.9 .3,1.2 .2,.5 .2,-2.4 .3,-3.4 .4,-1.5 .3,-2.9 .4,-4.3 0,1.9 .3,-2.6 .4,1.6 .3,-.5 .4,-2.1 0,.3 .3,1.1 .4,3 .3,.2 0,1.9 .4,2.1 .3,3.6 .4,3.4 .1,2.1 .2,-3.6 .4,-1.7 .3,-2.5 .2,-4.1 .2,.2 .3,-2.5 .4,-1 .3,-2.1 0,.9 .4,1.2 .3,-.2 .4,.4 .3,.1 .4,-.3 .3,1.2 .4,1.1 .3,-.8 .2,-.2 .2,.2 .3,1.1 .4,2.1 .3,-1.5 .4,-.5 .3,1.5 .4,-.1 .3,-1.5 .4,1.7 0,.8 .3,.5 .4,2.5 .3,-.6 .4,1.2 .3,-.5 .4,1.1 .3,3.2 .4,-.6 .1,1.1 .2,-3.1 .4,-1.2 .3,-2.9 .4,-4.8 .3,-.9 0,1.5 .4,-1.9 .3,-2.2 .4,.7 .3,-2 0,1.9 .4,2.2 .3,1.2 .3,1.8 .1,.6 .3,3.5 .4,1.3 .3,2.3 .1,.4 .3,-3 .3,-1.3 .4,-2.7 .1,-1.9 .2,-.8 .4,-1.2 .3,-1.2 .3,-.2 .1,-.3 .3,-.3 .4,.9 .3,-.6 .4,.7 .3,.9 .4,1 .3,-1 .4,-.3 .1,-.8 .2,1.8 .4,-.6 .3,1.5 .4,.5 .3,0 .4,2 .3,-1 .4,-.1 .3,.9 0,.1 .4,0 .3,1.2 .4,.5 .3,.6 .4,.2 .3,2.7 .4,-.7 .3,1 .4,.7 .3,1.8 .4,1 0,-2.8 .3,-.6 .4,-4.2 .3,-1.3 .4,-2.6 .2,1 .1,-1.8 .4,-.1 .3,-1.8 .4,-1.5 .2,.1 .1,1.3 .4,1.2 .3,1.6 .2,.9 .2,1 .3,2.8 .4,4.2 .3,2.4 0,-1.6 .4,-2.4 .3,-2.7 .4,-2.8 0,.6 .3,-2 .4,-1.9 .3,-1.4 .2,-.7 .2,.5 .3,-.4 .4,.9 .3,-.5 .4,.3 .3,2.3 .4,-1.3 .3,.1 .4,-.3 0,.9 .3,2.7 .4,-3.2 .3,1.9 .4,.4 .3,.8 .4,.1 .3,-1.4 .4,2.7 .2,-1.7 .1,2.5 .4,-1.2 .3,.8 .4,1.6 .3,.5 .4,1 .3,-.5 .4,1.7 .3,0 .4,1.4 .3,.4 .2,.3 .2,-1.8 .3,-2 .4,-2.4 .3,-1.7 .4,-2.9 0,1.1 .3,-2.6 .4,.7 .3,-2 .4,.5 0,-2 .3,3.9 .4,.4 .3,1.1 0,2.4 .4,2.8 .3,1.8 .4,2.3 .1,.9 .2,-.6 .4,-5.2 .3,-1.9 .2,.9 .2,-1.2 .3,-3 .4,-.5 .3,-2.1 0,-1.1 .4,2 .3,-.1 .4,-.6 .3,1.3 .4,0 .3,-.6 .4,0 .3,1.9 .2,-1.4 .2,.6 .3,1.4 .4,-.4 .3,.3 .4,.7 .3,0 .4,.9 .3,.1 .4,.8 0,.2 .3,-.2 .4,-.2 .3,-1.4 .4,.4 .3,0 .4,-.5 .3,.1 .1,-1.1 .3,1.1 .3,-1.8 .4,-.3 .2,0 .1,-.3 .4,-1.1 .3,-.7 .4,-3.2 .3,-.7 .4,-1.2 .3,-1.5 .1,.5 .3,2.4 .3,1.4 .4,1.2 .3,4.3 .4,2.1 .3,2.3 .3,2 .1,.6 .3,2.3 .4,1.8 0,.2 .3,-2.1 .4,-1.4 .3,-2.5 .1,.7 .3,-.1 .3,-1.7 .4,.2 .3,-1 .4,-.2 .1,.3 .2,-2.3 .4,1.4 .3,1.6 .4,-1 .3,.1 .4,.5 .3,.1 .4,-1 .3,1.8 0,-1.8 .4,.6 .3,-.3 .4,-2 .3,.6 .4,-.8 .3,.1 .4,-1.5 .3,-.4 .2,.4 .2,.1 .3,.3 .4,-1.2 .3,-.1 .4,2.1 0,-.3 .3,-.9 .4,-1.3 .3,.7 .2,.6 .2,-3.6 .3,-6.1 .4,-5.4 .3,-6.7 .4,-5.3 .3,-5.9 .4,-5.7 0,.8 .3,6.3 .4,6.4 .3,7.6 .4,7.2 .3,7 .4,6 .2,2.9 .1,2.5 .4,1.8 .3,.5 0,.2 .4,-2.1 .3,-1 .4,-1.1 0,-.8 .3,.5 .4,.5 .3,-1.3 .4,.4 .3,.3 .1,-.3 .3,-2 .3,.5 .4,-.5 .3,0 .4,-1.5 .3,1.2 .4,-.9 .3,-1.2 .3,1.8 .1,-.7 .3,.3 .4,.1 .3,-.8 .4,.8 .3,-1.3 .4,-.3 .3,-.4 .4,1 .1,-.1 .2,.6 .4,-1.4 .3,-.5 .3,1.9 .1,-.9 .3,-1.5 .4,-.7 .3,2 .1,-.3 .3,-8.5 .3,-7.9 .4,-9.3 .3,-8.1 .4,-8.2 .3,-7.7 .3,-6.6 .1,2.5 .3,9.2 .4,11.3 .3,6.8 .4,10.9 .3,9.5 .4,9.1 .1,2.2 .2,1.1 .4,2.9 .2,.5 .1,-1.7 .4,-.9 .3,0 .3,-1.6 .1,-2.2 .3,1.3 .4,-.9 .3,.8 .4,-1.9 .3,-.7 0,.7 .4,.3 .3,-.6 .4,.5 .3,-2.2 .4,.8 .3,.1 .4,.6 .3,.2 .2,-.7 .2,-.4 .3,1.2 .4,-1.8 .3,2.2 .4,-1.9 .3,.8 .4,-2.3 .3,1.1 .4,.1 0,.1 .3,-1.2 .4,.1 .3,-.1 .4,-.2 .1,.2 .2,-.9 .4,.1 .3,.9 .3,-.5 .1,-1.7 .3,-3.9 .4,-5.1 .3,-4.1 .4,-4.6 .3,-3.8 .4,-4 .1,-2.4 .2,4.4 .4,4.5 .3,6 .4,6.1 .3,5.7 .4,4.5 .3,5.9 .4,.8 .3,2.8 .1,-1.1 .3,-2 .3,-.9 .4,-.8 .1,-1.3 .2,-1 .4,1.1 .3,.7 .4,-1.5 .3,1.1 .2,-1.2 .2,1.5 .3,-.6 .4,-1.9 .3,0 .4,.7 .3,.2 .4,-.7 .3,.7 .4,0 0,-.2 .3,-1.3 .4,1.7 .3,.5 .4,-1.9 .3,.5 .4,-2.3 .3,2 .4,-1.8 .2,.2 .1,.5 .4,.2 .3,-1.5 .4,1 .3,-.5 .4,-2.4 .3,1.6 0,-.3 .4,-.4 .3,-.9 .4,1.5 .1,0 .2,-6.3 .4,-7.9 .3,-8.9 .4,-9.6 .3,-9.1 .4,-8.1 .3,-8.5 0,2.6 .4,8.6 .3,10.9 .4,8.6 .3,10.5 .4,9.9 .3,9.5 .2,5.7 .2,.7 .3,1.3 .3,1.7 .1,-2.8 .3,-.6 .4,-1.9 .3,-.4 0,-.8 .4,-.9 .3,1.2 .4,-.7 .3,.8 .4,-1 0,-.6 .3,0 .4,-.1 .3,.2 .4,-1.2 .3,1.7 .4,-1.1 .3,.3 .4,0 .2,-1.2 .1,1.9 .4,-2.1 .3,-1.7 .4,.8 .3,.7 .4,.5 .3,-1.2 .4,.8 .3,-.7 .1,-1 .3,.5 .3,-1 .4,.2 .3,.3 .1,.9 .3,-.9 .3,-1.5 .4,.1 .2,1 .1,-5.3 .4,-9.9 .3,-8.7 .4,-9.8 .3,-9.6 .4,-9.5 .3,-9.3 .1,-3 .3,9.7 .3,11.5 .4,11.1 .3,10.8 .4,8.6 .3,11.6 .3,8.3 .1,.8 .3,2.9 .4,.7 0,.2 .3,-2.2 .4,-.9 .3,-2.4 .1,.9 .3,-1.4 .3,-.2 .4,-2.2 .3,.5 .4,.3 .1,-1.5 .2,.2 .4,-.6 .3,1.8 .4,0 .3,-1.1 .4,.2 .3,-.3 .4,.1 .3,-.1 0,-.3 .4,.5 .3,-2.9 .4,2.6 .3,-1.2 .4,-.7 .3,.6 .4,-.2 .3,.2 .2,-1.1 .2,-.1 .3,-.5 .4,.5 .3,-1 .4,2 .3,-.2 .4,-1.5 0,.4 .3,-.5 .4,1.6 .3,-1.2 .2,.6 .2,-5.5 .3,-10.1 .4,-10.1 .3,-10.7 .4,-8 .3,-9.6 .4,-9.1 0,-.2 .3,9.9 .4,12.5 .3,10.1 .4,9.3 .3,11.6 .4,9.9 .2,6.5 .1,-.4 .4,2.8 .3,2.2 0,-.2 .4,-2 .3,-2.5 .4,-1 0,1.5 .3,-3.3 .4,.8 .3,1.7 .4,-3 .3,1.2 .1,.2 .3,-.2 .3,-1.7 .4,0 .3,.1 .4,.2 .3,.3 .4,.3 .3,-.1 .3,-1.2 .1,-.1 .3,-.2 .4,-1.1 .3,2.3 .4,-.5 .3,-1.2 .4,-.1 .3,.8 .4,-1.9 .1,1.5 .2,-1.1 .4,.4 .3,.2 .4,-.9 .3,.3 .4,-1.1 .3,.3 .1,.1 .3,-.5 .3,1.1 .4,-1.2 .2,0 .1,-2.5 .4,-6.6 .3,-5.8 .4,-5.4 .3,-7.6 .4,-4.2 .3,-7.8 .1,.4 .3,6 .3,7.3 .4,6.7 .3,7.8 .4,4.9 .3,9 .3,4.5 .1,-.3 .3,2.8 .4,2.4 0,1.4 .3,-4.2 .4,.3 .3,-1.7 .1,-1.5 .3,-.9 .3,1.9 .4,-2.2 .3,.9 .4,.1 .1,-2.5 .2,1.5 .4,-.5 .3,-.5 .4,-.2 .3,1.1 .4,-.9 .3,-.2 .4,.1 .3,-.6 0,.2 .4,-.4 .3,-.3 .4,0 .3,.5 .4,.7 .3,-2.5 .4,-1.6 .3,3.1 .2,-.1 .2,-1.5 .3,.7 .4,-.2 .3,-.5 .4,-.7 .3,1.1 .4,-1.4 .3,.8 0,-.8 .4,-.1 .3,.2 .4,.1 .1,.1 .2,-4.5 .4,-5 .3,-7.9 .4,-5.6 .3,-6.3 .4,-6 .3,-4.2 0,.4 .4,7.9 .3,6 .4,8.6 .3,6.7 .4,6 .3,7.5 .2,3.3 .2,2.1 .3,1.8 .3,1 .1,-.1 .3,-1.5 .4,-3.1 .3,-1.2 0,.4 .4,-1.4 .3,.5 .4,-1.7 .3,-.2 .4,-.6 0,-.2 .3,.6 .4,2 .3,-2.4 .4,.5 .3,-.8 .4,.3 .3,.7 .4,-2 .2,-.7 .1,3.5 .4,-1.3 .3,.2 .4,0 .3,-.2 .4,-1.4 .3,.8 .4,-.6 .3,.2 .1,-1.1 .3,.9 .3,.3 .4,-2.3 .3,.7 .4,-1.8 .3,1.1 0,-1.5 .4,1.7 .3,-1.8 .4,.9 .1,0 .2,-6.2 .4,-7.1 .3,-7.2 .4,-8.7 .3,-9 .4,-8.1 .3,-6.2 0,1.3 .4,8.9 .3,9.7 .4,9.9 .3,8.3 .4,8 .3,10.4 .2,3.2 .2,1.5 .3,.9 .3,3.5 .1,-1.1 .3,-1.4 .4,-3.9 .3,1.7 0,-2 .4,1.1 .3,-1.4 .4,-2.6 .3,1.5 .4,0 0,-1.2 .3,.6 .4,-.5 .3,.1 .4,.3 .3,-1.5 .4,.8 .3,-.2 .4,-.5 .2,1.1 .1,1.1 .4,-2.8 .3,1.1 .4,.3 .3,-1.1 .4,.5 .3,.3 .4,-1.3 .3,-.3 .1,.6 .3,1.4 .3,-2.5 .4,.9 .3,-.2 0,-.4 .4,-.8 .3,-.5 .4,.4 .1,-.6 .2,-3.1 .4,-3 .3,-3.3 .4,-4.5 .3,-3.1 .4,-5 .3,-.9 0,1.6 .4,3.7 .3,3.8 .4,5 .3,5.8 .4,4.3 .3,3 .2,3.2 .2,1.2 .3,1.9 .3,.1 .1,-.6 .3,-1 .4,-1.4 .3,-1 0,-.1 .4,-.4 .3,-.4 .4,.8 .3,0 .4,-1.4 0,-1.5 .3,1.4 .4,-.8 .3,-.3 .4,-.9 .3,.5 .4,-.7 .3,2.2 .4,-1.9 .2,.3 .1,-.1 .4,-1.5 .3,1.1 .4,-1.3 .3,1 .4,-.2 .3,-.6 .4,-.1 .3,-.3 .1,-.1 .3,-.6 .3,-.6 .4,.8 .3,-.4 .4,1.1 .3,-.5 .4,.1 0,-.2 .3,.7 .4,-.7 .3,.8 .2,-1.4 .2,-3.7 .3,-8.8 .4,-6.8 .3,-9.7 .4,-5.3 .3,-9.1 .4,-7.3 0,-.7 .3,9.1 .4,8.8 .3,8.5 .4,10.1 .3,6.8 .4,10.2 .2,5.3 .1,.3 .4,2.9 .3,2.3 0,-.2 .4,-2.1 .3,-2.8 .4,-2.3 0,.6 .3,-.9 .4,-.5 .3,0 .4,-1.4 .3,.2 .1,-.8 .3,.4 .3,.5 .4,1 .3,-.6 .4,-.5 .3,.2 .4,-.6 .3,2.2 .3,-2.5 .1,1.3 .3,-1.3 .4,-.5 .3,.3 .4,.4 .3,-.5 .4,-.7 .3,.8 .4,-1.6 .1,.1 .2,.4 .4,.1 .3,-.7 .4,1.2 .3,-.9 .3,-.5 .1,-.6 .3,.5 .4,-.3 .3,-.1 .1,-.5 .3,-4.4 .3,-6.5 .4,-4.6 .3,-7.1 .4,-5.1 .3,-5.4 .3,-4.3 .1,2.6 .3,6.8 .4,5.3 .3,8.2 .4,5.6 .3,9.1 .4,5.1 .1,2 .2,1.6 .4,-.3 .2,1.7 .1,-.5 .4,-.6 .3,-1.9 .3,-2 .1,2 .3,-.8 .4,-.9 .3,.2 .4,-.9 .3,.3 .4,-.8 .3,-.1 .4,.1 .3,-.5 .4,-.8 .3,-.1 .4,.2 .3,.7 .2,-.4 .2,-.7 .3,.5 .4,-.5 .3,1.4 .4,-1.8 .3,.4 .4,-.1 .3,-.5 .4,-.5 0,1.6 .3,-1.2 .4,-1.6 .3,1.6 .4,-1.4 .3,2 .4,-.6 .3,-2.5 .3,1 .1,-.2 .3,-4.6 .4,-4.6 0,.2 .3,-12.3 .4,-13.6 .2,-6.3 .1,-7.4 .4,-14.8 .2,-9.1 .1,-3.4 .4,-7.3 .1,-1 .2,5.5 .4,4.6 0,-.6 .3,14.7 .4,13.1 .1,5.1 .2,10.6 .4,16 .2,9 .1,5.8 .3,8.7 .1,.5 .3,-.8 0,-.7 .4,-2.3 .3,-1.7 .1,.1 .3,3.2 .3,4 .4,4.9 .2,2.5 .1,2.9 .4,6.6 .3,6.1 .2,4 .2,3.2 .3,3.7 .3,1.7 .1,1 .3,-1.4 .4,1.6 .3,-1.3 .1,-.8 .3,-.9 .3,-3.1 .4,-1.6 .3,-2.6 .4,-2.9 .3,-1 0,-1.5 .4,-2.1 .3,-4.2 .4,-4 .3,-3.9 .1,1.2 .3,-3.7 .3,-5.5 .4,-2.8 0,-.7 .3,-1 .4,-.7 .3,-.8 .2,.5 .2,-1 .3,-1.7 .3,1.5 .1,-.6 .3,-1.1 .4,.4 .3,-.3 .4,.5 .3,.2 .4,-.1 .3,-.4 .4,-.1 .3,.8 .4,-.5 .3,1.3 .4,-1.6 .3,.8 .4,-.4 .3,-.4 .4,1.1 .3,-.6 .4,-.6 .3,.3 .4,.7 .3,-1.1 .4,1.3 .3,-.3 .4,-.5 .3,.8 .4,.2 .3,-.6 .4,-.2 .3,.8 .4,-.1 .3,-1.3 .4,.4 .3,0 .4,-.1 .3,-.6 .4,1.3 .3,-.5 .4,.1 .3,.6 .4,-1 .3,.3 .4,.1 .3,-.3 .4,.1 .3,.5 .4,-.4 .3,.7 .4,-1.1 .3,.5 .4,-.8 .3,.6 .4,-.3 .3,1.1 .4,-.3 .3,-.1 .4,.7 .3,-.3 .4,-.3 .3,-.8 .4,-.3 .3,.7 .4,-.2 .3,-.1 .4,.1 .3,-.7 .4,1.7 .3,-1.4 .4,.3 .3,.6 .4,-1.1 .3,1.3 .4,0 .3,-.7 .4,-.4 .3,.4 .4,-.8 .3,1.7 .4,-.7 .3,-.4 .4,-.1 .3,.8 .4,.5 .3,-1.5 .4,.4 .3,-.6 .4,1.3 .3,-.3 .4,1.1 .3,-1.3 .4,-.1 .3,-.2 .4,.8 .3,-1.2 .4,1.2 .3,-.3 .4,-.4 .3,-.2 .4,1 .3,.5 .4,-1.2 .3,.5 .4,.6 .3,-1.2 .4,.2 .3,-.5 .4,.5 .3,.1 .4,-.2 .3,-.2 .4,-.4 .3,.1 .4,.2 .3,.8 .4,-.6 .3,-.1 .4,.7 .3,0 .4,-.7 .3,.1 .4,.6 .3,-.1 .4,-.6 .3,.5 .4,-.1 .3,.6 .4,-1.1 .3,1 .4,-.3 .3,-.7 .4,1.1 .3,-.1 .4,-1.2 .3,1.7 .4,-1.6 .3,.1 .4,.3 .3,.6 .4,-.1 .3,-.3 .4,.7 .3,-.5 .4,.5 .3,.8 .4,-1.4 .3,-1.5 .4,1.2 .3,-.4 .4,.6 .3,.1 .4,-.7 .3,0 .4,.5 .3,0 .4,-1.3 .3,1.9 .4,-.5 .3,0 .4,.2 .3,-.7 .4,.5 .3,.6 .4,0 .3,-.4 .4,-.3 .3,-.3 .4,1.1 .3,-.4 .4,-.5 .3,-1 .4,.7 .3,-.5 .4,1.7 .3,-.6 .4,-.5 .3,.3 .4,1.5 .3,-.7 .4,-1.4 .3,.6 .4,-.6 .3,-.2 .4,1 .3,1.2 .4,-.5 .3,-.8 .2,-.2" stroke="#18a022"/>
</g>
<rect x="50.5" y="2.5" width="490.0" height="191.0" fill="none" stroke="#666" stroke-width="1"/>
<line x1="72.6" y1="193.5" x2="72.6" y2="195.5" stroke="#555" stroke-width="0.8"/>
<text x="72.6" y="204.2" text-anchor="middle" class="tk">0</text>
<line x1="173.6" y1="193.5" x2="173.6" y2="195.5" stroke="#555" stroke-width="0.8"/>
<text x="173.6" y="204.2" text-anchor="middle" class="tk">5</text>
<line x1="274.6" y1="193.5" x2="274.6" y2="195.5" stroke="#555" stroke-width="0.8"/>
<text x="274.6" y="204.2" text-anchor="middle" class="tk">10</text>
<line x1="375.6" y1="193.5" x2="375.6" y2="195.5" stroke="#555" stroke-width="0.8"/>
<text x="375.6" y="204.2" text-anchor="middle" class="tk">15</text>
<line x1="476.6" y1="193.5" x2="476.6" y2="195.5" stroke="#555" stroke-width="0.8"/>
<text x="476.6" y="204.2" text-anchor="middle" class="tk">20</text>
<line x1="48.2" y1="28.3" x2="50.5" y2="28.3" stroke="#555" stroke-width="0.8"/>
<text x="46.6" y="32.1" text-anchor="end" class="tk">1000</text>
<line x1="48.2" y1="65.3" x2="50.5" y2="65.3" stroke="#555" stroke-width="0.8"/>
<text x="46.6" y="69.1" text-anchor="end" class="tk">500</text>
<line x1="48.2" y1="102.4" x2="50.5" y2="102.4" stroke="#555" stroke-width="0.8"/>
<text x="46.6" y="106.2" text-anchor="end" class="tk">0</text>
<line x1="48.2" y1="139.4" x2="50.5" y2="139.4" stroke="#555" stroke-width="0.8"/>
<text x="46.6" y="143.2" text-anchor="end" class="tk">−500</text>
<line x1="48.2" y1="176.5" x2="50.5" y2="176.5" stroke="#555" stroke-width="0.8"/>
<text x="46.6" y="180.3" text-anchor="end" class="tk">−1000</text>
<text x="295.5" y="214.8" text-anchor="middle" class="lb">Time (s)</text>
<text transform="translate(14.3 97.5) rotate(-90)" text-anchor="middle" class="lb">Angular Velocity (dps)</text>
<rect x="50.5" y="249.5" width="489.0" height="191.0" fill="none" stroke="#666" stroke-width="1"/>
<line x1="72.6" y1="440.5" x2="72.6" y2="442.5" stroke="#555" stroke-width="0.8"/>
<text x="72.6" y="451.2" text-anchor="middle" class="tk">0</text>
<line x1="173.6" y1="440.5" x2="173.6" y2="442.5" stroke="#555" stroke-width="0.8"/>
<text x="173.6" y="451.2" text-anchor="middle" class="tk">5</text>
<line x1="274.6" y1="440.5" x2="274.6" y2="442.5" stroke="#555" stroke-width="0.8"/>
<text x="274.6" y="451.2" text-anchor="middle" class="tk">10</text>
<line x1="375.6" y1="440.5" x2="375.6" y2="442.5" stroke="#555" stroke-width="0.8"/>
<text x="375.6" y="451.2" text-anchor="middle" class="tk">15</text>
<line x1="476.6" y1="440.5" x2="476.6" y2="442.5" stroke="#555" stroke-width="0.8"/>
<text x="476.6" y="451.2" text-anchor="middle" class="tk">20</text>
<line x1="48.2" y1="264.5" x2="50.5" y2="264.5" stroke="#555" stroke-width="0.8"/>
<text x="46.6" y="268.3" text-anchor="end" class="tk">1000</text>
<line x1="48.2" y1="290.0" x2="50.5" y2="290.0" stroke="#555" stroke-width="0.8"/>
<text x="46.6" y="293.8" text-anchor="end" class="tk">800</text>
<line x1="48.2" y1="315.5" x2="50.5" y2="315.5" stroke="#555" stroke-width="0.8"/>
<text x="46.6" y="319.3" text-anchor="end" class="tk">600</text>
<line x1="48.2" y1="341.0" x2="50.5" y2="341.0" stroke="#555" stroke-width="0.8"/>
<text x="46.6" y="344.8" text-anchor="end" class="tk">400</text>
<line x1="48.2" y1="366.5" x2="50.5" y2="366.5" stroke="#555" stroke-width="0.8"/>
<text x="46.6" y="370.3" text-anchor="end" class="tk">200</text>
<line x1="48.2" y1="392.0" x2="50.5" y2="392.0" stroke="#555" stroke-width="0.8"/>
<text x="46.6" y="395.8" text-anchor="end" class="tk">0</text>
<line x1="48.2" y1="417.5" x2="50.5" y2="417.5" stroke="#555" stroke-width="0.8"/>
<text x="46.6" y="421.3" text-anchor="end" class="tk">−200</text>
<text x="295.5" y="461.5" text-anchor="middle" class="lb">Time (s)</text>
<text transform="translate(19.8 344.5) rotate(-90)" text-anchor="middle" class="lb">Magnetic Field (mG)</text>
<rect x="482.0" y="6.2" width="54.8" height="38.4" rx="1.5" fill="#fff" fill-opacity="0.8" stroke="#d8d8d8" stroke-width="0.8"/>
<line x1="485.2" y1="13.2" x2="502.2" y2="13.2" stroke="#1b78c0" stroke-width="1.1"/>
<text x="508.6" y="16.3" class="lg">X-axis</text>
<line x1="485.2" y1="25.2" x2="502.2" y2="25.2" stroke="#ff7d0b" stroke-width="1.1"/>
<text x="508.6" y="28.3" class="lg">Y-axis</text>
<line x1="485.2" y1="37.0" x2="502.2" y2="37.0" stroke="#18a022" stroke-width="1.1"/>
<text x="508.6" y="40.1" class="lg">Z-axis</text>
<rect x="481.2" y="253.5" width="54.6" height="38.5" rx="1.5" fill="#fff" fill-opacity="0.8" stroke="#d8d8d8" stroke-width="0.8"/>
<line x1="484.2" y1="260.3" x2="501.4" y2="260.3" stroke="#1b78c0" stroke-width="1.1"/>
<text x="507.6" y="263.4" class="lg">X-axis</text>
<line x1="484.2" y1="272.3" x2="501.4" y2="272.3" stroke="#ff7d0b" stroke-width="1.1"/>
<text x="507.6" y="275.4" class="lg">Y-axis</text>
<line x1="484.2" y1="284.3" x2="501.4" y2="284.3" stroke="#18a022" stroke-width="1.1"/>
<text x="507.6" y="287.4" class="lg">Z-axis</text>
<text x="273.8" y="238.2" text-anchor="middle" class="cap">(<tspan font-weight="bold" font-size="14.8px">b</tspan>)</text>
<text x="273.7" y="482.8" text-anchor="middle" class="cap">(<tspan font-weight="bold" font-size="14.8px">c</tspan>)</text>
</svg>
</body></html>
